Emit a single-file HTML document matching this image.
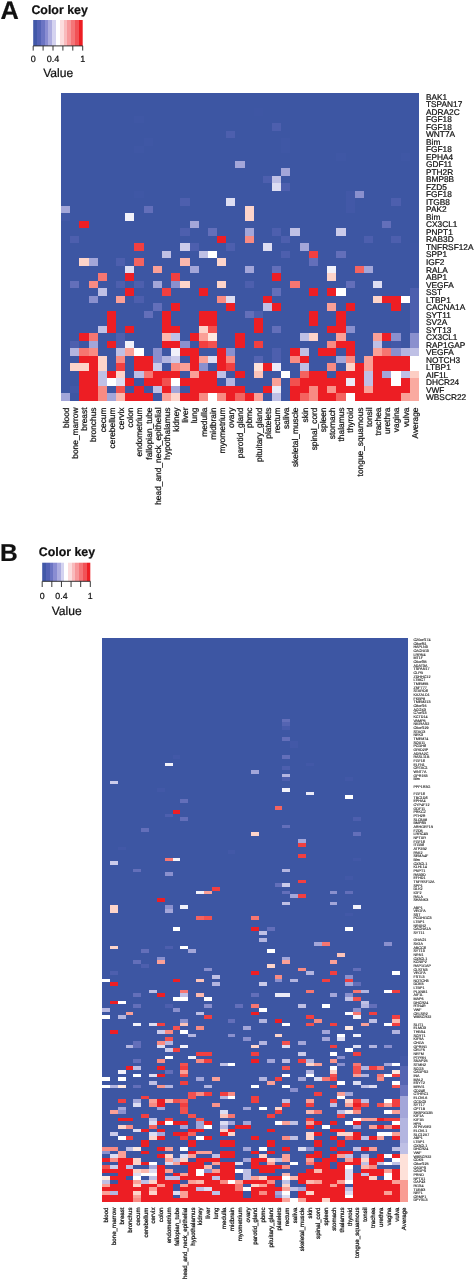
<!DOCTYPE html><html><head><meta charset="utf-8"><title>Heatmaps</title><style>html,body{margin:0;padding:0;background:#fff;}body{width:474px;height:1280px;overflow:hidden;}svg{display:block;}text{font-family:"Liberation Sans",Arial,Helvetica,sans-serif;fill:#111;stroke:#111;stroke-width:0.22px;text-rendering:geometricPrecision;}text.sm{stroke:#111;stroke-width:1px;fill:#111;}</style></head><body>
<svg width="474" height="1280" viewBox="0 0 474 1280">
<rect x="0" y="0" width="474" height="1280" fill="#fff"/>
<defs><linearGradient id="key" x1="0" y1="0" x2="1" y2="0"><stop offset="0%" stop-color="#4158a8"/><stop offset="7.69%" stop-color="#4158a8"/><stop offset="7.69%" stop-color="#5362b5"/><stop offset="15.38%" stop-color="#5362b5"/><stop offset="15.38%" stop-color="#6b74c3"/><stop offset="23.08%" stop-color="#6b74c3"/><stop offset="23.08%" stop-color="#8a8dd2"/><stop offset="30.77%" stop-color="#8a8dd2"/><stop offset="30.77%" stop-color="#adade0"/><stop offset="38.46%" stop-color="#adade0"/><stop offset="38.46%" stop-color="#d4d3f0"/><stop offset="46.15%" stop-color="#d4d3f0"/><stop offset="46.15%" stop-color="#ffffff"/><stop offset="53.85%" stop-color="#ffffff"/><stop offset="53.85%" stop-color="#fcdcdd"/><stop offset="61.54%" stop-color="#fcdcdd"/><stop offset="61.54%" stop-color="#f9babc"/><stop offset="69.23%" stop-color="#f9babc"/><stop offset="69.23%" stop-color="#f7979a"/><stop offset="76.92%" stop-color="#f7979a"/><stop offset="76.92%" stop-color="#f47578"/><stop offset="84.62%" stop-color="#f47578"/><stop offset="84.62%" stop-color="#f15257"/><stop offset="92.31%" stop-color="#f15257"/><stop offset="92.31%" stop-color="#ed1e24"/><stop offset="100%" stop-color="#ed1e24"/></linearGradient></defs>
<text x="0.5" y="18.7" font-size="25.3" font-weight="bold">A</text>
<text x="31.4" y="13.5" font-size="12.4" font-weight="bold">Color key</text>
<rect x="33.2" y="20" width="49.5" height="25.9" fill="url(#key)"/>
<line x1="33.2" y1="45.9" x2="82.7" y2="45.9" stroke="#222" stroke-width="0.9"/>
<line x1="33.2" y1="45.9" x2="33.2" y2="50.6" stroke="#222" stroke-width="0.9"/>
<line x1="43.1" y1="45.9" x2="43.1" y2="50.6" stroke="#222" stroke-width="0.9"/>
<line x1="53" y1="45.9" x2="53" y2="50.6" stroke="#222" stroke-width="0.9"/>
<line x1="62.9" y1="45.9" x2="62.9" y2="50.6" stroke="#222" stroke-width="0.9"/>
<line x1="72.8" y1="45.9" x2="72.8" y2="50.6" stroke="#222" stroke-width="0.9"/>
<line x1="82.7" y1="45.9" x2="82.7" y2="50.6" stroke="#222" stroke-width="0.9"/>
<text x="33.2" y="62.1" font-size="9" text-anchor="middle">0</text>
<text x="53" y="62.1" font-size="9" text-anchor="middle">0.4</text>
<text x="82.7" y="62.1" font-size="9" text-anchor="middle">1</text>
<text x="43.2" y="76.8" font-size="12.1">Value</text>
<g shape-rendering="crispEdges"><rect x="61" y="93" width="358" height="308" fill="#3d56a3"/>
<rect x="409.82" y="93" width="9.18" height="7.51" fill="#3d56a3"/>
<rect x="409.82" y="100.51" width="9.18" height="7.51" fill="#3d56a3"/>
<rect x="253.77" y="108.02" width="9.18" height="7.51" fill="#3e56a4"/>
<rect x="409.82" y="108.02" width="9.18" height="7.51" fill="#3d56a3"/>
<rect x="134.44" y="115.54" width="9.18" height="7.51" fill="#3f57a5"/>
<rect x="409.82" y="115.54" width="9.18" height="7.51" fill="#3d56a3"/>
<rect x="272.13" y="123.05" width="9.18" height="7.51" fill="#4d5fae"/>
<rect x="409.82" y="123.05" width="9.18" height="7.51" fill="#3d56a3"/>
<rect x="226.23" y="130.56" width="9.18" height="7.51" fill="#4d5fae"/>
<rect x="409.82" y="130.56" width="9.18" height="7.51" fill="#3d56a3"/>
<rect x="143.62" y="138.07" width="9.18" height="7.51" fill="#3f57a5"/>
<rect x="281.31" y="138.07" width="9.18" height="7.51" fill="#3f57a5"/>
<rect x="409.82" y="138.07" width="9.18" height="7.51" fill="#3d56a3"/>
<rect x="134.44" y="145.59" width="9.18" height="7.51" fill="#3f57a5"/>
<rect x="281.31" y="145.59" width="9.18" height="7.51" fill="#3f57a5"/>
<rect x="409.82" y="145.59" width="9.18" height="7.51" fill="#3d56a3"/>
<rect x="336.38" y="153.1" width="9.18" height="7.51" fill="#3f57a5"/>
<rect x="400.64" y="153.1" width="9.18" height="7.51" fill="#3f57a5"/>
<rect x="409.82" y="153.1" width="9.18" height="7.51" fill="#3d56a3"/>
<rect x="235.41" y="160.61" width="9.18" height="7.51" fill="#a3a6d9"/>
<rect x="409.82" y="160.61" width="9.18" height="7.51" fill="#3d56a3"/>
<rect x="281.31" y="168.12" width="9.18" height="7.51" fill="#a3a6d9"/>
<rect x="409.82" y="168.12" width="9.18" height="7.51" fill="#3d56a3"/>
<rect x="262.95" y="175.63" width="9.18" height="7.51" fill="#4d5fae"/>
<rect x="272.13" y="175.63" width="9.18" height="7.51" fill="#bfc0e5"/>
<rect x="409.82" y="175.63" width="9.18" height="7.51" fill="#3d56a3"/>
<rect x="272.13" y="183.15" width="9.18" height="7.51" fill="#ddddf2"/>
<rect x="281.31" y="183.15" width="9.18" height="7.51" fill="#4d5fae"/>
<rect x="409.82" y="183.15" width="9.18" height="7.51" fill="#3d56a3"/>
<rect x="134.44" y="190.66" width="9.18" height="7.51" fill="#3f57a5"/>
<rect x="345.56" y="190.66" width="9.18" height="7.51" fill="#4258a7"/>
<rect x="354.74" y="190.66" width="9.18" height="7.51" fill="#8a90ce"/>
<rect x="409.82" y="190.66" width="9.18" height="7.51" fill="#3d56a3"/>
<rect x="180.33" y="198.17" width="9.18" height="7.51" fill="#4d5fae"/>
<rect x="226.23" y="198.17" width="9.18" height="7.51" fill="#ddddf2"/>
<rect x="345.56" y="198.17" width="9.18" height="7.51" fill="#4258a7"/>
<rect x="391.46" y="198.17" width="9.18" height="7.51" fill="#4d5fae"/>
<rect x="409.82" y="198.17" width="9.18" height="7.51" fill="#3d56a3"/>
<rect x="61" y="205.68" width="9.18" height="7.51" fill="#a3a6d9"/>
<rect x="143.62" y="205.68" width="9.18" height="7.51" fill="#636fba"/>
<rect x="244.59" y="205.68" width="9.18" height="7.51" fill="#fdd4ca"/>
<rect x="345.56" y="205.68" width="9.18" height="7.51" fill="#4258a7"/>
<rect x="409.82" y="205.68" width="9.18" height="7.51" fill="#3d56a3"/>
<rect x="61" y="213.2" width="9.18" height="7.51" fill="#4258a7"/>
<rect x="125.26" y="213.2" width="9.18" height="7.51" fill="#f1f1fa"/>
<rect x="244.59" y="213.2" width="9.18" height="7.51" fill="#fdd4ca"/>
<rect x="409.82" y="213.2" width="9.18" height="7.51" fill="#3d56a3"/>
<rect x="79.36" y="220.71" width="9.18" height="7.51" fill="#ed1e24"/>
<rect x="189.51" y="220.71" width="9.18" height="7.51" fill="#a3a6d9"/>
<rect x="382.28" y="220.71" width="9.18" height="7.51" fill="#636fba"/>
<rect x="409.82" y="220.71" width="9.18" height="7.51" fill="#3d56a3"/>
<rect x="180.33" y="228.22" width="9.18" height="7.51" fill="#4d5fae"/>
<rect x="207.87" y="228.22" width="9.18" height="7.51" fill="#636fba"/>
<rect x="244.59" y="228.22" width="9.18" height="7.51" fill="#a3a6d9"/>
<rect x="272.13" y="228.22" width="9.18" height="7.51" fill="#4d5fae"/>
<rect x="290.49" y="228.22" width="9.18" height="7.51" fill="#bfc0e5"/>
<rect x="336.38" y="228.22" width="9.18" height="7.51" fill="#cbcbea"/>
<rect x="409.82" y="228.22" width="9.18" height="7.51" fill="#3d56a3"/>
<rect x="70.18" y="235.73" width="9.18" height="7.51" fill="#4d5fae"/>
<rect x="217.05" y="235.73" width="9.18" height="7.51" fill="#ed1e24"/>
<rect x="244.59" y="235.73" width="9.18" height="7.51" fill="#f88b83"/>
<rect x="281.31" y="235.73" width="9.18" height="7.51" fill="#4d5fae"/>
<rect x="363.92" y="235.73" width="9.18" height="7.51" fill="#4d5fae"/>
<rect x="391.46" y="235.73" width="9.18" height="7.51" fill="#4d5fae"/>
<rect x="409.82" y="235.73" width="9.18" height="7.51" fill="#3d56a3"/>
<rect x="134.44" y="243.24" width="9.18" height="7.51" fill="#f13f40"/>
<rect x="180.33" y="243.24" width="9.18" height="7.51" fill="#cbcbea"/>
<rect x="189.51" y="243.24" width="9.18" height="7.51" fill="#4d5fae"/>
<rect x="226.23" y="243.24" width="9.18" height="7.51" fill="#4d5fae"/>
<rect x="262.95" y="243.24" width="9.18" height="7.51" fill="#ddddf2"/>
<rect x="299.67" y="243.24" width="9.18" height="7.51" fill="#a3a6d9"/>
<rect x="409.82" y="243.24" width="9.18" height="7.51" fill="#3e56a4"/>
<rect x="161.97" y="250.76" width="9.18" height="7.51" fill="#bfc0e5"/>
<rect x="198.69" y="250.76" width="9.18" height="7.51" fill="#bfc0e5"/>
<rect x="207.87" y="250.76" width="9.18" height="7.51" fill="#ffffff"/>
<rect x="281.31" y="250.76" width="9.18" height="7.51" fill="#4d5fae"/>
<rect x="308.85" y="250.76" width="9.18" height="7.51" fill="#f13f40"/>
<rect x="336.38" y="250.76" width="9.18" height="7.51" fill="#636fba"/>
<rect x="409.82" y="250.76" width="9.18" height="7.51" fill="#3e56a4"/>
<rect x="79.36" y="258.27" width="9.18" height="7.51" fill="#fdd4ca"/>
<rect x="88.54" y="258.27" width="9.18" height="7.51" fill="#a3a6d9"/>
<rect x="116.08" y="258.27" width="9.18" height="7.51" fill="#4d5fae"/>
<rect x="134.44" y="258.27" width="9.18" height="7.51" fill="#f4635f"/>
<rect x="180.33" y="258.27" width="9.18" height="7.51" fill="#fbb8ae"/>
<rect x="217.05" y="258.27" width="9.18" height="7.51" fill="#fdd4ca"/>
<rect x="308.85" y="258.27" width="9.18" height="7.51" fill="#636fba"/>
<rect x="409.82" y="258.27" width="9.18" height="7.51" fill="#3e56a4"/>
<rect x="125.26" y="265.78" width="9.18" height="7.51" fill="#ddddf2"/>
<rect x="152.79" y="265.78" width="9.18" height="7.51" fill="#faa097"/>
<rect x="189.51" y="265.78" width="9.18" height="7.51" fill="#a3a6d9"/>
<rect x="244.59" y="265.78" width="9.18" height="7.51" fill="#a3a6d9"/>
<rect x="272.13" y="265.78" width="9.18" height="7.51" fill="#636fba"/>
<rect x="327.21" y="265.78" width="9.18" height="7.51" fill="#f1f1fa"/>
<rect x="354.74" y="265.78" width="9.18" height="7.51" fill="#f4635f"/>
<rect x="363.92" y="265.78" width="9.18" height="7.51" fill="#a3a6d9"/>
<rect x="409.82" y="265.78" width="9.18" height="7.51" fill="#3e56a4"/>
<rect x="97.72" y="273.29" width="9.18" height="7.51" fill="#f67671"/>
<rect x="125.26" y="273.29" width="9.18" height="7.51" fill="#ed1e24"/>
<rect x="171.15" y="273.29" width="9.18" height="7.51" fill="#f13f40"/>
<rect x="272.13" y="273.29" width="9.18" height="7.51" fill="#ed1e24"/>
<rect x="327.21" y="273.29" width="9.18" height="7.51" fill="#fdd4ca"/>
<rect x="409.82" y="273.29" width="9.18" height="7.51" fill="#3e56a4"/>
<rect x="70.18" y="280.8" width="9.18" height="7.51" fill="#636fba"/>
<rect x="88.54" y="280.8" width="9.18" height="7.51" fill="#f88b83"/>
<rect x="116.08" y="280.8" width="9.18" height="7.51" fill="#4d5fae"/>
<rect x="134.44" y="280.8" width="9.18" height="7.51" fill="#4d5fae"/>
<rect x="152.79" y="280.8" width="9.18" height="7.51" fill="#a3a6d9"/>
<rect x="171.15" y="280.8" width="9.18" height="7.51" fill="#8a90ce"/>
<rect x="180.33" y="280.8" width="9.18" height="7.51" fill="#fdd4ca"/>
<rect x="217.05" y="280.8" width="9.18" height="7.51" fill="#fdd4ca"/>
<rect x="244.59" y="280.8" width="9.18" height="7.51" fill="#4d5fae"/>
<rect x="290.49" y="280.8" width="9.18" height="7.51" fill="#f67671"/>
<rect x="345.56" y="280.8" width="9.18" height="7.51" fill="#636fba"/>
<rect x="373.1" y="280.8" width="9.18" height="7.51" fill="#ddddf2"/>
<rect x="409.82" y="280.8" width="9.18" height="7.51" fill="#3e56a4"/>
<rect x="97.72" y="288.32" width="9.18" height="7.51" fill="#bfc0e5"/>
<rect x="125.26" y="288.32" width="9.18" height="7.51" fill="#ed1e24"/>
<rect x="161.97" y="288.32" width="9.18" height="7.51" fill="#f13f40"/>
<rect x="198.69" y="288.32" width="9.18" height="7.51" fill="#ed1e24"/>
<rect x="272.13" y="288.32" width="9.18" height="7.51" fill="#636fba"/>
<rect x="308.85" y="288.32" width="9.18" height="7.51" fill="#ed1e24"/>
<rect x="327.21" y="288.32" width="9.18" height="7.51" fill="#ed1e24"/>
<rect x="336.38" y="288.32" width="9.18" height="7.51" fill="#ffffff"/>
<rect x="409.82" y="288.32" width="9.18" height="7.51" fill="#4d5fae"/>
<rect x="88.54" y="295.83" width="9.18" height="7.51" fill="#8a90ce"/>
<rect x="116.08" y="295.83" width="9.18" height="7.51" fill="#faa097"/>
<rect x="134.44" y="295.83" width="9.18" height="7.51" fill="#4d5fae"/>
<rect x="217.05" y="295.83" width="9.18" height="7.51" fill="#f88b83"/>
<rect x="226.23" y="295.83" width="9.18" height="7.51" fill="#ddddf2"/>
<rect x="262.95" y="295.83" width="9.18" height="7.51" fill="#ed1e24"/>
<rect x="373.1" y="295.83" width="9.18" height="7.51" fill="#fdd4ca"/>
<rect x="382.28" y="295.83" width="9.18" height="7.51" fill="#ed1e24"/>
<rect x="391.46" y="295.83" width="9.18" height="7.51" fill="#ed1e24"/>
<rect x="400.64" y="295.83" width="9.18" height="7.51" fill="#ffffff"/>
<rect x="409.82" y="295.83" width="9.18" height="7.51" fill="#4d5fae"/>
<rect x="152.79" y="303.34" width="9.18" height="7.51" fill="#636fba"/>
<rect x="171.15" y="303.34" width="9.18" height="7.51" fill="#ed1e24"/>
<rect x="226.23" y="303.34" width="9.18" height="7.51" fill="#ed1e24"/>
<rect x="262.95" y="303.34" width="9.18" height="7.51" fill="#bfc0e5"/>
<rect x="272.13" y="303.34" width="9.18" height="7.51" fill="#ed1e24"/>
<rect x="327.21" y="303.34" width="9.18" height="7.51" fill="#faa097"/>
<rect x="345.56" y="303.34" width="9.18" height="7.51" fill="#ed1e24"/>
<rect x="391.46" y="303.34" width="9.18" height="7.51" fill="#ed1e24"/>
<rect x="409.82" y="303.34" width="9.18" height="7.51" fill="#4d5fae"/>
<rect x="106.9" y="310.85" width="9.18" height="7.51" fill="#ed1e24"/>
<rect x="143.62" y="310.85" width="9.18" height="7.51" fill="#636fba"/>
<rect x="161.97" y="310.85" width="9.18" height="7.51" fill="#ed1e24"/>
<rect x="198.69" y="310.85" width="9.18" height="7.51" fill="#ed1e24"/>
<rect x="207.87" y="310.85" width="9.18" height="7.51" fill="#ed1e24"/>
<rect x="244.59" y="310.85" width="9.18" height="7.51" fill="#636fba"/>
<rect x="253.77" y="310.85" width="9.18" height="7.51" fill="#4d5fae"/>
<rect x="308.85" y="310.85" width="9.18" height="7.51" fill="#ed1e24"/>
<rect x="336.38" y="310.85" width="9.18" height="7.51" fill="#ed1e24"/>
<rect x="409.82" y="310.85" width="9.18" height="7.51" fill="#4d5fae"/>
<rect x="106.9" y="318.37" width="9.18" height="7.51" fill="#ed1e24"/>
<rect x="161.97" y="318.37" width="9.18" height="7.51" fill="#ed1e24"/>
<rect x="198.69" y="318.37" width="9.18" height="7.51" fill="#ed1e24"/>
<rect x="207.87" y="318.37" width="9.18" height="7.51" fill="#ed1e24"/>
<rect x="253.77" y="318.37" width="9.18" height="7.51" fill="#ed1e24"/>
<rect x="308.85" y="318.37" width="9.18" height="7.51" fill="#ed1e24"/>
<rect x="336.38" y="318.37" width="9.18" height="7.51" fill="#ed1e24"/>
<rect x="409.82" y="318.37" width="9.18" height="7.51" fill="#4d5fae"/>
<rect x="97.72" y="325.88" width="9.18" height="7.51" fill="#bfc0e5"/>
<rect x="106.9" y="325.88" width="9.18" height="7.51" fill="#ed1e24"/>
<rect x="125.26" y="325.88" width="9.18" height="7.51" fill="#ed1e24"/>
<rect x="161.97" y="325.88" width="9.18" height="7.51" fill="#ed1e24"/>
<rect x="171.15" y="325.88" width="9.18" height="7.51" fill="#ed1e24"/>
<rect x="198.69" y="325.88" width="9.18" height="7.51" fill="#fdd4ca"/>
<rect x="207.87" y="325.88" width="9.18" height="7.51" fill="#f2514f"/>
<rect x="253.77" y="325.88" width="9.18" height="7.51" fill="#ed1e24"/>
<rect x="272.13" y="325.88" width="9.18" height="7.51" fill="#636fba"/>
<rect x="327.21" y="325.88" width="9.18" height="7.51" fill="#ed1e24"/>
<rect x="336.38" y="325.88" width="9.18" height="7.51" fill="#ed1e24"/>
<rect x="345.56" y="325.88" width="9.18" height="7.51" fill="#8a90ce"/>
<rect x="409.82" y="325.88" width="9.18" height="7.51" fill="#4d5fae"/>
<rect x="79.36" y="333.39" width="9.18" height="7.51" fill="#ed1e24"/>
<rect x="88.54" y="333.39" width="9.18" height="7.51" fill="#f67671"/>
<rect x="116.08" y="333.39" width="9.18" height="7.51" fill="#4d5fae"/>
<rect x="161.97" y="333.39" width="9.18" height="7.51" fill="#fbb8ae"/>
<rect x="171.15" y="333.39" width="9.18" height="7.51" fill="#bfc0e5"/>
<rect x="189.51" y="333.39" width="9.18" height="7.51" fill="#ed1e24"/>
<rect x="198.69" y="333.39" width="9.18" height="7.51" fill="#faa097"/>
<rect x="207.87" y="333.39" width="9.18" height="7.51" fill="#fee9e1"/>
<rect x="235.41" y="333.39" width="9.18" height="7.51" fill="#ed1e24"/>
<rect x="299.67" y="333.39" width="9.18" height="7.51" fill="#bfc0e5"/>
<rect x="308.85" y="333.39" width="9.18" height="7.51" fill="#fdd4ca"/>
<rect x="336.38" y="333.39" width="9.18" height="7.51" fill="#faa097"/>
<rect x="373.1" y="333.39" width="9.18" height="7.51" fill="#faa097"/>
<rect x="382.28" y="333.39" width="9.18" height="7.51" fill="#ed1e24"/>
<rect x="391.46" y="333.39" width="9.18" height="7.51" fill="#8a90ce"/>
<rect x="409.82" y="333.39" width="9.18" height="7.51" fill="#8a90ce"/>
<rect x="70.18" y="340.9" width="9.18" height="7.51" fill="#4d5fae"/>
<rect x="88.54" y="340.9" width="9.18" height="7.51" fill="#a3a6d9"/>
<rect x="106.9" y="340.9" width="9.18" height="7.51" fill="#ed1e24"/>
<rect x="116.08" y="340.9" width="9.18" height="7.51" fill="#4d5fae"/>
<rect x="125.26" y="340.9" width="9.18" height="7.51" fill="#f1f1fa"/>
<rect x="161.97" y="340.9" width="9.18" height="7.51" fill="#ed1e24"/>
<rect x="171.15" y="340.9" width="9.18" height="7.51" fill="#ed1e24"/>
<rect x="180.33" y="340.9" width="9.18" height="7.51" fill="#8a90ce"/>
<rect x="198.69" y="340.9" width="9.18" height="7.51" fill="#f13f40"/>
<rect x="207.87" y="340.9" width="9.18" height="7.51" fill="#f2514f"/>
<rect x="235.41" y="340.9" width="9.18" height="7.51" fill="#ed1e24"/>
<rect x="253.77" y="340.9" width="9.18" height="7.51" fill="#f13f40"/>
<rect x="327.21" y="340.9" width="9.18" height="7.51" fill="#f88b83"/>
<rect x="336.38" y="340.9" width="9.18" height="7.51" fill="#ed1e24"/>
<rect x="345.56" y="340.9" width="9.18" height="7.51" fill="#ed1e24"/>
<rect x="373.1" y="340.9" width="9.18" height="7.51" fill="#bfc0e5"/>
<rect x="391.46" y="340.9" width="9.18" height="7.51" fill="#4258a7"/>
<rect x="409.82" y="340.9" width="9.18" height="7.51" fill="#8a90ce"/>
<rect x="70.18" y="348.41" width="9.18" height="7.51" fill="#b3b5e0"/>
<rect x="79.36" y="348.41" width="9.18" height="7.51" fill="#f67671"/>
<rect x="88.54" y="348.41" width="9.18" height="7.51" fill="#f88b83"/>
<rect x="116.08" y="348.41" width="9.18" height="7.51" fill="#bfc0e5"/>
<rect x="125.26" y="348.41" width="9.18" height="7.51" fill="#faa097"/>
<rect x="134.44" y="348.41" width="9.18" height="7.51" fill="#ffffff"/>
<rect x="152.79" y="348.41" width="9.18" height="7.51" fill="#8a90ce"/>
<rect x="171.15" y="348.41" width="9.18" height="7.51" fill="#f1f1fa"/>
<rect x="180.33" y="348.41" width="9.18" height="7.51" fill="#ed1e24"/>
<rect x="189.51" y="348.41" width="9.18" height="7.51" fill="#ed1e24"/>
<rect x="217.05" y="348.41" width="9.18" height="7.51" fill="#ed1e24"/>
<rect x="226.23" y="348.41" width="9.18" height="7.51" fill="#8a90ce"/>
<rect x="272.13" y="348.41" width="9.18" height="7.51" fill="#4d5fae"/>
<rect x="290.49" y="348.41" width="9.18" height="7.51" fill="#ed1e24"/>
<rect x="299.67" y="348.41" width="9.18" height="7.51" fill="#bfc0e5"/>
<rect x="318.03" y="348.41" width="9.18" height="7.51" fill="#ed1e24"/>
<rect x="327.21" y="348.41" width="9.18" height="7.51" fill="#ed1e24"/>
<rect x="345.56" y="348.41" width="9.18" height="7.51" fill="#ed1e24"/>
<rect x="373.1" y="348.41" width="9.18" height="7.51" fill="#faa097"/>
<rect x="382.28" y="348.41" width="9.18" height="7.51" fill="#f67671"/>
<rect x="391.46" y="348.41" width="9.18" height="7.51" fill="#8a90ce"/>
<rect x="400.64" y="348.41" width="9.18" height="7.51" fill="#b3b5e0"/>
<rect x="409.82" y="348.41" width="9.18" height="7.51" fill="#bfc0e5"/>
<rect x="79.36" y="355.93" width="9.18" height="7.51" fill="#ed1e24"/>
<rect x="88.54" y="355.93" width="9.18" height="7.51" fill="#ed1e24"/>
<rect x="97.72" y="355.93" width="9.18" height="7.51" fill="#fdd4ca"/>
<rect x="116.08" y="355.93" width="9.18" height="7.51" fill="#f88b83"/>
<rect x="134.44" y="355.93" width="9.18" height="7.51" fill="#ed1e24"/>
<rect x="143.62" y="355.93" width="9.18" height="7.51" fill="#ed1e24"/>
<rect x="152.79" y="355.93" width="9.18" height="7.51" fill="#8a90ce"/>
<rect x="161.97" y="355.93" width="9.18" height="7.51" fill="#b3b5e0"/>
<rect x="171.15" y="355.93" width="9.18" height="7.51" fill="#cbcbea"/>
<rect x="189.51" y="355.93" width="9.18" height="7.51" fill="#ed1e24"/>
<rect x="198.69" y="355.93" width="9.18" height="7.51" fill="#faa097"/>
<rect x="207.87" y="355.93" width="9.18" height="7.51" fill="#ddddf2"/>
<rect x="217.05" y="355.93" width="9.18" height="7.51" fill="#ed1e24"/>
<rect x="226.23" y="355.93" width="9.18" height="7.51" fill="#f88b83"/>
<rect x="253.77" y="355.93" width="9.18" height="7.51" fill="#5464b2"/>
<rect x="272.13" y="355.93" width="9.18" height="7.51" fill="#4d5fae"/>
<rect x="290.49" y="355.93" width="9.18" height="7.51" fill="#f88b83"/>
<rect x="299.67" y="355.93" width="9.18" height="7.51" fill="#ed1e24"/>
<rect x="336.38" y="355.93" width="9.18" height="7.51" fill="#a3a6d9"/>
<rect x="345.56" y="355.93" width="9.18" height="7.51" fill="#f88b83"/>
<rect x="363.92" y="355.93" width="9.18" height="7.51" fill="#faa097"/>
<rect x="373.1" y="355.93" width="9.18" height="7.51" fill="#ed1e24"/>
<rect x="382.28" y="355.93" width="9.18" height="7.51" fill="#ed1e24"/>
<rect x="391.46" y="355.93" width="9.18" height="7.51" fill="#ed1e24"/>
<rect x="400.64" y="355.93" width="9.18" height="7.51" fill="#ed1e24"/>
<rect x="409.82" y="355.93" width="9.18" height="7.51" fill="#ffffff"/>
<rect x="70.18" y="363.44" width="9.18" height="7.51" fill="#fdd4ca"/>
<rect x="79.36" y="363.44" width="9.18" height="7.51" fill="#fdd4ca"/>
<rect x="88.54" y="363.44" width="9.18" height="7.51" fill="#ed1e24"/>
<rect x="97.72" y="363.44" width="9.18" height="7.51" fill="#fdd4ca"/>
<rect x="116.08" y="363.44" width="9.18" height="7.51" fill="#f13f40"/>
<rect x="134.44" y="363.44" width="9.18" height="7.51" fill="#ed1e24"/>
<rect x="143.62" y="363.44" width="9.18" height="7.51" fill="#ed1e24"/>
<rect x="152.79" y="363.44" width="9.18" height="7.51" fill="#cbcbea"/>
<rect x="171.15" y="363.44" width="9.18" height="7.51" fill="#f88b83"/>
<rect x="180.33" y="363.44" width="9.18" height="7.51" fill="#faa097"/>
<rect x="189.51" y="363.44" width="9.18" height="7.51" fill="#ed1e24"/>
<rect x="198.69" y="363.44" width="9.18" height="7.51" fill="#8a90ce"/>
<rect x="217.05" y="363.44" width="9.18" height="7.51" fill="#ed1e24"/>
<rect x="226.23" y="363.44" width="9.18" height="7.51" fill="#f13f40"/>
<rect x="253.77" y="363.44" width="9.18" height="7.51" fill="#fee1d9"/>
<rect x="262.95" y="363.44" width="9.18" height="7.51" fill="#ed1e24"/>
<rect x="272.13" y="363.44" width="9.18" height="7.51" fill="#ebeaf7"/>
<rect x="299.67" y="363.44" width="9.18" height="7.51" fill="#bfc0e5"/>
<rect x="327.21" y="363.44" width="9.18" height="7.51" fill="#f88b83"/>
<rect x="345.56" y="363.44" width="9.18" height="7.51" fill="#fdd4ca"/>
<rect x="354.74" y="363.44" width="9.18" height="7.51" fill="#ed1e24"/>
<rect x="363.92" y="363.44" width="9.18" height="7.51" fill="#faa097"/>
<rect x="373.1" y="363.44" width="9.18" height="7.51" fill="#ed1e24"/>
<rect x="382.28" y="363.44" width="9.18" height="7.51" fill="#ed1e24"/>
<rect x="391.46" y="363.44" width="9.18" height="7.51" fill="#ed1e24"/>
<rect x="400.64" y="363.44" width="9.18" height="7.51" fill="#ed1e24"/>
<rect x="409.82" y="363.44" width="9.18" height="7.51" fill="#ffffff"/>
<rect x="79.36" y="370.95" width="9.18" height="7.51" fill="#ed1e24"/>
<rect x="88.54" y="370.95" width="9.18" height="7.51" fill="#ed1e24"/>
<rect x="97.72" y="370.95" width="9.18" height="7.51" fill="#bfc0e5"/>
<rect x="106.9" y="370.95" width="9.18" height="7.51" fill="#ed1e24"/>
<rect x="116.08" y="370.95" width="9.18" height="7.51" fill="#fdd4ca"/>
<rect x="134.44" y="370.95" width="9.18" height="7.51" fill="#bfc0e5"/>
<rect x="143.62" y="370.95" width="9.18" height="7.51" fill="#f67671"/>
<rect x="152.79" y="370.95" width="9.18" height="7.51" fill="#ed1e24"/>
<rect x="161.97" y="370.95" width="9.18" height="7.51" fill="#ed1e24"/>
<rect x="171.15" y="370.95" width="9.18" height="7.51" fill="#ed1e24"/>
<rect x="189.51" y="370.95" width="9.18" height="7.51" fill="#faa097"/>
<rect x="198.69" y="370.95" width="9.18" height="7.51" fill="#ed1e24"/>
<rect x="207.87" y="370.95" width="9.18" height="7.51" fill="#ed1e24"/>
<rect x="217.05" y="370.95" width="9.18" height="7.51" fill="#bfc0e5"/>
<rect x="235.41" y="370.95" width="9.18" height="7.51" fill="#ed1e24"/>
<rect x="253.77" y="370.95" width="9.18" height="7.51" fill="#fcc3b9"/>
<rect x="281.31" y="370.95" width="9.18" height="7.51" fill="#ffffff"/>
<rect x="299.67" y="370.95" width="9.18" height="7.51" fill="#f4635f"/>
<rect x="308.85" y="370.95" width="9.18" height="7.51" fill="#ed1e24"/>
<rect x="318.03" y="370.95" width="9.18" height="7.51" fill="#ed1e24"/>
<rect x="336.38" y="370.95" width="9.18" height="7.51" fill="#ed1e24"/>
<rect x="345.56" y="370.95" width="9.18" height="7.51" fill="#ed1e24"/>
<rect x="354.74" y="370.95" width="9.18" height="7.51" fill="#ed1e24"/>
<rect x="363.92" y="370.95" width="9.18" height="7.51" fill="#bfc0e5"/>
<rect x="373.1" y="370.95" width="9.18" height="7.51" fill="#ed1e24"/>
<rect x="382.28" y="370.95" width="9.18" height="7.51" fill="#a3a6d9"/>
<rect x="391.46" y="370.95" width="9.18" height="7.51" fill="#ffffff"/>
<rect x="400.64" y="370.95" width="9.18" height="7.51" fill="#bfc0e5"/>
<rect x="409.82" y="370.95" width="9.18" height="7.51" fill="#fdcec4"/>
<rect x="79.36" y="378.46" width="9.18" height="7.51" fill="#ed1e24"/>
<rect x="88.54" y="378.46" width="9.18" height="7.51" fill="#ed1e24"/>
<rect x="97.72" y="378.46" width="9.18" height="7.51" fill="#bfc0e5"/>
<rect x="106.9" y="378.46" width="9.18" height="7.51" fill="#ffffff"/>
<rect x="116.08" y="378.46" width="9.18" height="7.51" fill="#ddddf2"/>
<rect x="125.26" y="378.46" width="9.18" height="7.51" fill="#ed1e24"/>
<rect x="143.62" y="378.46" width="9.18" height="7.51" fill="#ed1e24"/>
<rect x="152.79" y="378.46" width="9.18" height="7.51" fill="#ed1e24"/>
<rect x="161.97" y="378.46" width="9.18" height="7.51" fill="#f2514f"/>
<rect x="171.15" y="378.46" width="9.18" height="7.51" fill="#ffffff"/>
<rect x="180.33" y="378.46" width="9.18" height="7.51" fill="#ed1e24"/>
<rect x="189.51" y="378.46" width="9.18" height="7.51" fill="#ed1e24"/>
<rect x="198.69" y="378.46" width="9.18" height="7.51" fill="#ed1e24"/>
<rect x="207.87" y="378.46" width="9.18" height="7.51" fill="#ed1e24"/>
<rect x="226.23" y="378.46" width="9.18" height="7.51" fill="#b3b5e0"/>
<rect x="272.13" y="378.46" width="9.18" height="7.51" fill="#faa097"/>
<rect x="290.49" y="378.46" width="9.18" height="7.51" fill="#f2514f"/>
<rect x="299.67" y="378.46" width="9.18" height="7.51" fill="#ed1e24"/>
<rect x="308.85" y="378.46" width="9.18" height="7.51" fill="#ed1e24"/>
<rect x="318.03" y="378.46" width="9.18" height="7.51" fill="#ed1e24"/>
<rect x="327.21" y="378.46" width="9.18" height="7.51" fill="#ed1e24"/>
<rect x="336.38" y="378.46" width="9.18" height="7.51" fill="#ed1e24"/>
<rect x="345.56" y="378.46" width="9.18" height="7.51" fill="#ebeaf7"/>
<rect x="354.74" y="378.46" width="9.18" height="7.51" fill="#ed1e24"/>
<rect x="363.92" y="378.46" width="9.18" height="7.51" fill="#bfc0e5"/>
<rect x="373.1" y="378.46" width="9.18" height="7.51" fill="#ed1e24"/>
<rect x="382.28" y="378.46" width="9.18" height="7.51" fill="#ed1e24"/>
<rect x="391.46" y="378.46" width="9.18" height="7.51" fill="#ffffff"/>
<rect x="400.64" y="378.46" width="9.18" height="7.51" fill="#ed1e24"/>
<rect x="409.82" y="378.46" width="9.18" height="7.51" fill="#faaaa0"/>
<rect x="70.18" y="385.98" width="9.18" height="7.51" fill="#4258a7"/>
<rect x="79.36" y="385.98" width="9.18" height="7.51" fill="#ed1e24"/>
<rect x="88.54" y="385.98" width="9.18" height="7.51" fill="#ed1e24"/>
<rect x="97.72" y="385.98" width="9.18" height="7.51" fill="#f88b83"/>
<rect x="116.08" y="385.98" width="9.18" height="7.51" fill="#f2514f"/>
<rect x="134.44" y="385.98" width="9.18" height="7.51" fill="#ed1e24"/>
<rect x="152.79" y="385.98" width="9.18" height="7.51" fill="#bfc0e5"/>
<rect x="161.97" y="385.98" width="9.18" height="7.51" fill="#ed1e24"/>
<rect x="171.15" y="385.98" width="9.18" height="7.51" fill="#a3a6d9"/>
<rect x="189.51" y="385.98" width="9.18" height="7.51" fill="#ed1e24"/>
<rect x="198.69" y="385.98" width="9.18" height="7.51" fill="#ed1e24"/>
<rect x="207.87" y="385.98" width="9.18" height="7.51" fill="#ed1e24"/>
<rect x="217.05" y="385.98" width="9.18" height="7.51" fill="#ed1e24"/>
<rect x="226.23" y="385.98" width="9.18" height="7.51" fill="#ed1e24"/>
<rect x="235.41" y="385.98" width="9.18" height="7.51" fill="#ed1e24"/>
<rect x="262.95" y="385.98" width="9.18" height="7.51" fill="#ed1e24"/>
<rect x="272.13" y="385.98" width="9.18" height="7.51" fill="#ebeaf7"/>
<rect x="290.49" y="385.98" width="9.18" height="7.51" fill="#ed1e24"/>
<rect x="299.67" y="385.98" width="9.18" height="7.51" fill="#ed1e24"/>
<rect x="308.85" y="385.98" width="9.18" height="7.51" fill="#f88b83"/>
<rect x="318.03" y="385.98" width="9.18" height="7.51" fill="#ed1e24"/>
<rect x="327.21" y="385.98" width="9.18" height="7.51" fill="#f9938b"/>
<rect x="336.38" y="385.98" width="9.18" height="7.51" fill="#ed1e24"/>
<rect x="345.56" y="385.98" width="9.18" height="7.51" fill="#ed1e24"/>
<rect x="354.74" y="385.98" width="9.18" height="7.51" fill="#ed1e24"/>
<rect x="363.92" y="385.98" width="9.18" height="7.51" fill="#faa097"/>
<rect x="373.1" y="385.98" width="9.18" height="7.51" fill="#ed1e24"/>
<rect x="382.28" y="385.98" width="9.18" height="7.51" fill="#ed1e24"/>
<rect x="391.46" y="385.98" width="9.18" height="7.51" fill="#ed1e24"/>
<rect x="400.64" y="385.98" width="9.18" height="7.51" fill="#ed1e24"/>
<rect x="409.82" y="385.98" width="9.18" height="7.51" fill="#faaaa0"/>
<rect x="61" y="393.49" width="9.18" height="7.51" fill="#a3a6d9"/>
<rect x="79.36" y="393.49" width="9.18" height="7.51" fill="#ed1e24"/>
<rect x="88.54" y="393.49" width="9.18" height="7.51" fill="#ed1e24"/>
<rect x="97.72" y="393.49" width="9.18" height="7.51" fill="#f88b83"/>
<rect x="106.9" y="393.49" width="9.18" height="7.51" fill="#a3a6d9"/>
<rect x="116.08" y="393.49" width="9.18" height="7.51" fill="#fbb8ae"/>
<rect x="125.26" y="393.49" width="9.18" height="7.51" fill="#ed1e24"/>
<rect x="134.44" y="393.49" width="9.18" height="7.51" fill="#ed1e24"/>
<rect x="143.62" y="393.49" width="9.18" height="7.51" fill="#ed1e24"/>
<rect x="161.97" y="393.49" width="9.18" height="7.51" fill="#faa097"/>
<rect x="171.15" y="393.49" width="9.18" height="7.51" fill="#fdd4ca"/>
<rect x="180.33" y="393.49" width="9.18" height="7.51" fill="#ed1e24"/>
<rect x="189.51" y="393.49" width="9.18" height="7.51" fill="#ed1e24"/>
<rect x="198.69" y="393.49" width="9.18" height="7.51" fill="#f88b83"/>
<rect x="207.87" y="393.49" width="9.18" height="7.51" fill="#ffffff"/>
<rect x="217.05" y="393.49" width="9.18" height="7.51" fill="#f88b83"/>
<rect x="226.23" y="393.49" width="9.18" height="7.51" fill="#ed1e24"/>
<rect x="235.41" y="393.49" width="9.18" height="7.51" fill="#f4635f"/>
<rect x="244.59" y="393.49" width="9.18" height="7.51" fill="#ed1e24"/>
<rect x="253.77" y="393.49" width="9.18" height="7.51" fill="#faa097"/>
<rect x="272.13" y="393.49" width="9.18" height="7.51" fill="#bfc0e5"/>
<rect x="290.49" y="393.49" width="9.18" height="7.51" fill="#ed1e24"/>
<rect x="299.67" y="393.49" width="9.18" height="7.51" fill="#f4635f"/>
<rect x="308.85" y="393.49" width="9.18" height="7.51" fill="#f88b83"/>
<rect x="318.03" y="393.49" width="9.18" height="7.51" fill="#ed1e24"/>
<rect x="327.21" y="393.49" width="9.18" height="7.51" fill="#ed1e24"/>
<rect x="336.38" y="393.49" width="9.18" height="7.51" fill="#f4635f"/>
<rect x="345.56" y="393.49" width="9.18" height="7.51" fill="#ffffff"/>
<rect x="354.74" y="393.49" width="9.18" height="7.51" fill="#ed1e24"/>
<rect x="363.92" y="393.49" width="9.18" height="7.51" fill="#ed1e24"/>
<rect x="373.1" y="393.49" width="9.18" height="7.51" fill="#ed1e24"/>
<rect x="382.28" y="393.49" width="9.18" height="7.51" fill="#ed1e24"/>
<rect x="391.46" y="393.49" width="9.18" height="7.51" fill="#ed1e24"/>
<rect x="400.64" y="393.49" width="9.18" height="7.51" fill="#faa097"/>
<rect x="409.82" y="393.49" width="9.18" height="7.51" fill="#faaaa0"/>
</g>
<text x="426" y="99.73" font-size="8.3">BAK1</text>
<text x="426" y="107.24" font-size="8.3">TSPAN17</text>
<text x="426" y="114.75" font-size="8.3">ADRA2C</text>
<text x="426" y="122.26" font-size="8.3">FGF18</text>
<text x="426" y="129.78" font-size="8.3">FGF18</text>
<text x="426" y="137.29" font-size="8.3">WNT7A</text>
<text x="426" y="144.8" font-size="8.3">Bim</text>
<text x="426" y="152.31" font-size="8.3">FGF18</text>
<text x="426" y="159.83" font-size="8.3">EPHA4</text>
<text x="426" y="167.34" font-size="8.3">GDF11</text>
<text x="426" y="174.85" font-size="8.3">PTH2R</text>
<text x="426" y="182.36" font-size="8.3">BMP8B</text>
<text x="426" y="189.87" font-size="8.3">FZD5</text>
<text x="426" y="197.39" font-size="8.3">FGF18</text>
<text x="426" y="204.9" font-size="8.3">ITGB8</text>
<text x="426" y="212.41" font-size="8.3">PAK2</text>
<text x="426" y="219.92" font-size="8.3">Bim</text>
<text x="426" y="227.43" font-size="8.3">CX3CL1</text>
<text x="426" y="234.95" font-size="8.3">PNPT1</text>
<text x="426" y="242.46" font-size="8.3">RAB3D</text>
<text x="426" y="249.97" font-size="8.3">TNFRSF12A</text>
<text x="426" y="257.48" font-size="8.3">SPP1</text>
<text x="426" y="265" font-size="8.3">IGF2</text>
<text x="426" y="272.51" font-size="8.3">RALA</text>
<text x="426" y="280.02" font-size="8.3">ABP1</text>
<text x="426" y="287.53" font-size="8.3">VEGFA</text>
<text x="426" y="295.04" font-size="8.3">SST</text>
<text x="426" y="302.56" font-size="8.3">LTBP1</text>
<text x="426" y="310.07" font-size="8.3">CACNA1A</text>
<text x="426" y="317.58" font-size="8.3">SYT11</text>
<text x="426" y="325.09" font-size="8.3">SV2A</text>
<text x="426" y="332.61" font-size="8.3">SYT13</text>
<text x="426" y="340.12" font-size="8.3">CX3CL1</text>
<text x="426" y="347.63" font-size="8.3">RAP1GAP</text>
<text x="426" y="355.14" font-size="8.3">VEGFA</text>
<text x="426" y="362.65" font-size="8.3">NOTCH3</text>
<text x="426" y="370.17" font-size="8.3">LTBP1</text>
<text x="426" y="377.68" font-size="8.3">AIF1L</text>
<text x="426" y="385.19" font-size="8.3">DHCR24</text>
<text x="426" y="392.7" font-size="8.3">VWF</text>
<text x="426" y="400.22" font-size="8.3">WBSCR22</text>
<text transform="translate(68.89 407.5) rotate(-90)" font-size="8.4" text-anchor="end">blood</text>
<text transform="translate(78.07 407.5) rotate(-90)" font-size="8.4" text-anchor="end">bone_marrow</text>
<text transform="translate(87.25 407.5) rotate(-90)" font-size="8.4" text-anchor="end">breast</text>
<text transform="translate(96.43 407.5) rotate(-90)" font-size="8.4" text-anchor="end">bronchus</text>
<text transform="translate(105.61 407.5) rotate(-90)" font-size="8.4" text-anchor="end">cecum</text>
<text transform="translate(114.79 407.5) rotate(-90)" font-size="8.4" text-anchor="end">cerebellum</text>
<text transform="translate(123.97 407.5) rotate(-90)" font-size="8.4" text-anchor="end">cervix</text>
<text transform="translate(133.15 407.5) rotate(-90)" font-size="8.4" text-anchor="end">colon</text>
<text transform="translate(142.33 407.5) rotate(-90)" font-size="8.4" text-anchor="end">endometrium</text>
<text transform="translate(151.51 407.5) rotate(-90)" font-size="8.4" text-anchor="end">fallopian_tube</text>
<text transform="translate(160.68 407.5) rotate(-90)" font-size="8.4" text-anchor="end">head_and_neck_epithelial</text>
<text transform="translate(169.86 407.5) rotate(-90)" font-size="8.4" text-anchor="end">hypothalamus</text>
<text transform="translate(179.04 407.5) rotate(-90)" font-size="8.4" text-anchor="end">kidney</text>
<text transform="translate(188.22 407.5) rotate(-90)" font-size="8.4" text-anchor="end">liver</text>
<text transform="translate(197.4 407.5) rotate(-90)" font-size="8.4" text-anchor="end">lung</text>
<text transform="translate(206.58 407.5) rotate(-90)" font-size="8.4" text-anchor="end">medulla</text>
<text transform="translate(215.76 407.5) rotate(-90)" font-size="8.4" text-anchor="end">midbrain</text>
<text transform="translate(224.94 407.5) rotate(-90)" font-size="8.4" text-anchor="end">myometrium</text>
<text transform="translate(234.12 407.5) rotate(-90)" font-size="8.4" text-anchor="end">ovary</text>
<text transform="translate(243.3 407.5) rotate(-90)" font-size="8.4" text-anchor="end">parotid_gland</text>
<text transform="translate(252.48 407.5) rotate(-90)" font-size="8.4" text-anchor="end">pbmc</text>
<text transform="translate(261.66 407.5) rotate(-90)" font-size="8.4" text-anchor="end">pituitary_gland</text>
<text transform="translate(270.84 407.5) rotate(-90)" font-size="8.4" text-anchor="end">platelets</text>
<text transform="translate(280.02 407.5) rotate(-90)" font-size="8.4" text-anchor="end">rectum</text>
<text transform="translate(289.2 407.5) rotate(-90)" font-size="8.4" text-anchor="end">saliva</text>
<text transform="translate(298.38 407.5) rotate(-90)" font-size="8.4" text-anchor="end">skeletal_muscle</text>
<text transform="translate(307.56 407.5) rotate(-90)" font-size="8.4" text-anchor="end">skin</text>
<text transform="translate(316.74 407.5) rotate(-90)" font-size="8.4" text-anchor="end">spinal_cord</text>
<text transform="translate(325.92 407.5) rotate(-90)" font-size="8.4" text-anchor="end">spleen</text>
<text transform="translate(335.09 407.5) rotate(-90)" font-size="8.4" text-anchor="end">stomach</text>
<text transform="translate(344.27 407.5) rotate(-90)" font-size="8.4" text-anchor="end">thalamus</text>
<text transform="translate(353.45 407.5) rotate(-90)" font-size="8.4" text-anchor="end">thyroid</text>
<text transform="translate(362.63 407.5) rotate(-90)" font-size="8.4" text-anchor="end">tongue_squamous</text>
<text transform="translate(371.81 407.5) rotate(-90)" font-size="8.4" text-anchor="end">tonsil</text>
<text transform="translate(380.99 407.5) rotate(-90)" font-size="8.4" text-anchor="end">trachea</text>
<text transform="translate(390.17 407.5) rotate(-90)" font-size="8.4" text-anchor="end">urethra</text>
<text transform="translate(399.35 407.5) rotate(-90)" font-size="8.4" text-anchor="end">vagina</text>
<text transform="translate(408.53 407.5) rotate(-90)" font-size="8.4" text-anchor="end">vulva</text>
<text transform="translate(417.71 407.5) rotate(-90)" font-size="8.4" text-anchor="end">Average</text>
<text x="0" y="561.2" font-size="24.5" font-weight="bold">B</text>
<text x="38.7" y="555.5" font-size="12.4" font-weight="bold">Color key</text>
<rect x="42.2" y="562.7" width="48.1" height="18.6" fill="url(#key)"/>
<line x1="42.2" y1="581.3" x2="90.3" y2="581.3" stroke="#222" stroke-width="0.9"/>
<line x1="42.2" y1="581.3" x2="42.2" y2="587" stroke="#222" stroke-width="0.9"/>
<line x1="51.82" y1="581.3" x2="51.82" y2="587" stroke="#222" stroke-width="0.9"/>
<line x1="61.44" y1="581.3" x2="61.44" y2="587" stroke="#222" stroke-width="0.9"/>
<line x1="71.06" y1="581.3" x2="71.06" y2="587" stroke="#222" stroke-width="0.9"/>
<line x1="80.68" y1="581.3" x2="80.68" y2="587" stroke="#222" stroke-width="0.9"/>
<line x1="90.3" y1="581.3" x2="90.3" y2="587" stroke="#222" stroke-width="0.9"/>
<text x="42.2" y="599.2" font-size="8.8" text-anchor="middle">0</text>
<text x="61.44" y="599.2" font-size="8.8" text-anchor="middle">0.4</text>
<text x="90.3" y="599.2" font-size="8.8" text-anchor="middle">1</text>
<text x="51.7" y="615" font-size="12.1">Value</text>
<g shape-rendering="crispEdges"><rect x="102" y="638" width="306" height="564" fill="#3d56a3"/>
<rect x="400.15" y="638" width="7.85" height="3.66" fill="#3d56a3"/>
<rect x="400.15" y="641.66" width="7.85" height="3.66" fill="#3d56a3"/>
<rect x="400.15" y="645.32" width="7.85" height="3.66" fill="#3d56a3"/>
<rect x="400.15" y="648.99" width="7.85" height="3.66" fill="#3d56a3"/>
<rect x="400.15" y="652.65" width="7.85" height="3.66" fill="#3d56a3"/>
<rect x="400.15" y="656.31" width="7.85" height="3.66" fill="#3d56a3"/>
<rect x="400.15" y="659.97" width="7.85" height="3.66" fill="#3d56a3"/>
<rect x="400.15" y="663.64" width="7.85" height="3.66" fill="#3d56a3"/>
<rect x="400.15" y="667.3" width="7.85" height="3.66" fill="#3d56a3"/>
<rect x="400.15" y="670.96" width="7.85" height="3.66" fill="#3d56a3"/>
<rect x="400.15" y="674.62" width="7.85" height="3.66" fill="#3d56a3"/>
<rect x="400.15" y="678.29" width="7.85" height="3.66" fill="#3d56a3"/>
<rect x="400.15" y="681.95" width="7.85" height="3.66" fill="#3d56a3"/>
<rect x="400.15" y="685.61" width="7.85" height="3.66" fill="#3d56a3"/>
<rect x="400.15" y="689.27" width="7.85" height="3.66" fill="#3d56a3"/>
<rect x="400.15" y="692.94" width="7.85" height="3.66" fill="#3d56a3"/>
<rect x="400.15" y="696.6" width="7.85" height="3.66" fill="#3d56a3"/>
<rect x="400.15" y="700.26" width="7.85" height="3.66" fill="#3d56a3"/>
<rect x="400.15" y="703.92" width="7.85" height="3.66" fill="#3d56a3"/>
<rect x="400.15" y="707.58" width="7.85" height="3.66" fill="#3d56a3"/>
<rect x="400.15" y="711.25" width="7.85" height="3.66" fill="#3d56a3"/>
<rect x="400.15" y="714.91" width="7.85" height="3.66" fill="#3d56a3"/>
<rect x="282.46" y="718.57" width="7.85" height="3.66" fill="#636fba"/>
<rect x="400.15" y="718.57" width="7.85" height="3.66" fill="#3d56a3"/>
<rect x="282.46" y="722.23" width="7.85" height="3.66" fill="#5464b2"/>
<rect x="400.15" y="722.23" width="7.85" height="3.66" fill="#3d56a3"/>
<rect x="282.46" y="725.9" width="7.85" height="3.66" fill="#475bab"/>
<rect x="400.15" y="725.9" width="7.85" height="3.66" fill="#3d56a3"/>
<rect x="400.15" y="729.56" width="7.85" height="3.66" fill="#3d56a3"/>
<rect x="400.15" y="733.22" width="7.85" height="3.66" fill="#3d56a3"/>
<rect x="282.46" y="736.88" width="7.85" height="3.66" fill="#636fba"/>
<rect x="400.15" y="736.88" width="7.85" height="3.66" fill="#3d56a3"/>
<rect x="290.31" y="740.55" width="7.85" height="3.66" fill="#4258a7"/>
<rect x="400.15" y="740.55" width="7.85" height="3.66" fill="#3d56a3"/>
<rect x="290.31" y="744.21" width="7.85" height="3.66" fill="#4258a7"/>
<rect x="400.15" y="744.21" width="7.85" height="3.66" fill="#3d56a3"/>
<rect x="400.15" y="747.87" width="7.85" height="3.66" fill="#3d56a3"/>
<rect x="400.15" y="751.53" width="7.85" height="3.66" fill="#3d56a3"/>
<rect x="172.62" y="755.19" width="7.85" height="3.66" fill="#4258a7"/>
<rect x="282.46" y="755.19" width="7.85" height="3.66" fill="#636fba"/>
<rect x="400.15" y="755.19" width="7.85" height="3.66" fill="#3d56a3"/>
<rect x="400.15" y="758.86" width="7.85" height="3.66" fill="#3d56a3"/>
<rect x="164.77" y="762.52" width="7.85" height="3.66" fill="#f1f1fa"/>
<rect x="306" y="762.52" width="7.85" height="3.66" fill="#4258a7"/>
<rect x="400.15" y="762.52" width="7.85" height="3.66" fill="#3d56a3"/>
<rect x="282.46" y="766.18" width="7.85" height="3.66" fill="#4d5fae"/>
<rect x="400.15" y="766.18" width="7.85" height="3.66" fill="#3d56a3"/>
<rect x="251.08" y="769.84" width="7.85" height="3.66" fill="#a3a6d9"/>
<rect x="400.15" y="769.84" width="7.85" height="3.66" fill="#3d56a3"/>
<rect x="282.46" y="773.51" width="7.85" height="3.66" fill="#b3b5e0"/>
<rect x="400.15" y="773.51" width="7.85" height="3.66" fill="#3d56a3"/>
<rect x="282.46" y="777.17" width="7.85" height="3.66" fill="#4d5fae"/>
<rect x="345.23" y="777.17" width="7.85" height="3.66" fill="#4258a7"/>
<rect x="400.15" y="777.17" width="7.85" height="3.66" fill="#3d56a3"/>
<rect x="109.85" y="780.83" width="7.85" height="3.66" fill="#cbcbea"/>
<rect x="400.15" y="780.83" width="7.85" height="3.66" fill="#3d56a3"/>
<rect x="400.15" y="784.49" width="7.85" height="3.66" fill="#3d56a3"/>
<rect x="156.92" y="788.16" width="7.85" height="3.66" fill="#4258a7"/>
<rect x="282.46" y="788.16" width="7.85" height="3.66" fill="#f1f1fa"/>
<rect x="400.15" y="788.16" width="7.85" height="3.66" fill="#3d56a3"/>
<rect x="306" y="791.82" width="7.85" height="3.66" fill="#ebeaf7"/>
<rect x="400.15" y="791.82" width="7.85" height="3.66" fill="#3d56a3"/>
<rect x="345.23" y="795.48" width="7.85" height="3.66" fill="#ffffff"/>
<rect x="400.15" y="795.48" width="7.85" height="3.66" fill="#3d56a3"/>
<rect x="180.46" y="799.14" width="7.85" height="3.66" fill="#636fba"/>
<rect x="400.15" y="799.14" width="7.85" height="3.66" fill="#3d56a3"/>
<rect x="400.15" y="802.81" width="7.85" height="3.66" fill="#3d56a3"/>
<rect x="274.62" y="806.47" width="7.85" height="3.66" fill="#f4635f"/>
<rect x="400.15" y="806.47" width="7.85" height="3.66" fill="#3d56a3"/>
<rect x="172.62" y="810.13" width="7.85" height="3.66" fill="#ed1e24"/>
<rect x="400.15" y="810.13" width="7.85" height="3.66" fill="#3d56a3"/>
<rect x="164.77" y="813.79" width="7.85" height="3.66" fill="#4d5fae"/>
<rect x="400.15" y="813.79" width="7.85" height="3.66" fill="#3d56a3"/>
<rect x="180.46" y="817.45" width="7.85" height="3.66" fill="#636fba"/>
<rect x="353.08" y="817.45" width="7.85" height="3.66" fill="#4d5fae"/>
<rect x="400.15" y="817.45" width="7.85" height="3.66" fill="#3d56a3"/>
<rect x="400.15" y="821.12" width="7.85" height="3.66" fill="#3d56a3"/>
<rect x="282.46" y="824.78" width="7.85" height="3.66" fill="#636fba"/>
<rect x="400.15" y="824.78" width="7.85" height="3.66" fill="#3d56a3"/>
<rect x="141.23" y="828.44" width="7.85" height="3.66" fill="#636fba"/>
<rect x="400.15" y="828.44" width="7.85" height="3.66" fill="#3d56a3"/>
<rect x="251.08" y="832.1" width="7.85" height="3.66" fill="#fdd4ca"/>
<rect x="353.08" y="832.1" width="7.85" height="3.66" fill="#636fba"/>
<rect x="400.15" y="832.1" width="7.85" height="3.66" fill="#3d56a3"/>
<rect x="400.15" y="835.77" width="7.85" height="3.66" fill="#3d56a3"/>
<rect x="298.15" y="839.43" width="7.85" height="3.66" fill="#a3a6d9"/>
<rect x="400.15" y="839.43" width="7.85" height="3.66" fill="#3d56a3"/>
<rect x="298.15" y="843.09" width="7.85" height="3.66" fill="#f13f40"/>
<rect x="400.15" y="843.09" width="7.85" height="3.66" fill="#3d56a3"/>
<rect x="117.69" y="846.75" width="7.85" height="3.66" fill="#4258a7"/>
<rect x="400.15" y="846.75" width="7.85" height="3.66" fill="#3d56a3"/>
<rect x="227.54" y="850.42" width="7.85" height="3.66" fill="#4258a7"/>
<rect x="400.15" y="850.42" width="7.85" height="3.66" fill="#3d56a3"/>
<rect x="298.15" y="854.08" width="7.85" height="3.66" fill="#f13f40"/>
<rect x="400.15" y="854.08" width="7.85" height="3.66" fill="#3d56a3"/>
<rect x="164.77" y="857.74" width="7.85" height="3.66" fill="#f67671"/>
<rect x="172.62" y="857.74" width="7.85" height="3.66" fill="#f1f1fa"/>
<rect x="353.08" y="857.74" width="7.85" height="3.66" fill="#4258a7"/>
<rect x="400.15" y="857.74" width="7.85" height="3.66" fill="#3d56a3"/>
<rect x="109.85" y="861.4" width="7.85" height="3.66" fill="#cbcbea"/>
<rect x="400.15" y="861.4" width="7.85" height="3.66" fill="#3d56a3"/>
<rect x="400.15" y="865.06" width="7.85" height="3.66" fill="#3d56a3"/>
<rect x="133.38" y="868.73" width="7.85" height="3.66" fill="#636fba"/>
<rect x="282.46" y="868.73" width="7.85" height="3.66" fill="#b3b5e0"/>
<rect x="400.15" y="868.73" width="7.85" height="3.66" fill="#3d56a3"/>
<rect x="164.77" y="872.39" width="7.85" height="3.66" fill="#8a90ce"/>
<rect x="400.15" y="872.39" width="7.85" height="3.66" fill="#3d56a3"/>
<rect x="345.23" y="876.05" width="7.85" height="3.66" fill="#4258a7"/>
<rect x="400.15" y="876.05" width="7.85" height="3.66" fill="#3d56a3"/>
<rect x="298.15" y="879.71" width="7.85" height="3.66" fill="#f13f40"/>
<rect x="400.15" y="879.71" width="7.85" height="3.66" fill="#3d56a3"/>
<rect x="274.62" y="883.38" width="7.85" height="3.66" fill="#636fba"/>
<rect x="282.46" y="883.38" width="7.85" height="3.66" fill="#cbcbea"/>
<rect x="400.15" y="883.38" width="7.85" height="3.66" fill="#3d56a3"/>
<rect x="211.85" y="887.04" width="7.85" height="3.66" fill="#f13f40"/>
<rect x="400.15" y="887.04" width="7.85" height="3.66" fill="#3d56a3"/>
<rect x="196.15" y="890.7" width="7.85" height="3.66" fill="#f1f1fa"/>
<rect x="204" y="890.7" width="7.85" height="3.66" fill="#faa097"/>
<rect x="282.46" y="890.7" width="7.85" height="3.66" fill="#636fba"/>
<rect x="329.54" y="890.7" width="7.85" height="3.66" fill="#8a90ce"/>
<rect x="345.23" y="890.7" width="7.85" height="3.66" fill="#636fba"/>
<rect x="400.15" y="890.7" width="7.85" height="3.66" fill="#3d56a3"/>
<rect x="290.31" y="894.36" width="7.85" height="3.66" fill="#a3a6d9"/>
<rect x="298.15" y="894.36" width="7.85" height="3.66" fill="#f13f40"/>
<rect x="400.15" y="894.36" width="7.85" height="3.66" fill="#3d56a3"/>
<rect x="156.92" y="898.03" width="7.85" height="3.66" fill="#ed1e24"/>
<rect x="400.15" y="898.03" width="7.85" height="3.66" fill="#3d56a3"/>
<rect x="282.46" y="901.69" width="7.85" height="3.66" fill="#bfc0e5"/>
<rect x="329.54" y="901.69" width="7.85" height="3.66" fill="#a3a6d9"/>
<rect x="400.15" y="901.69" width="7.85" height="3.66" fill="#3d56a3"/>
<rect x="109.85" y="905.35" width="7.85" height="3.66" fill="#fdd4ca"/>
<rect x="164.77" y="905.35" width="7.85" height="3.66" fill="#8a90ce"/>
<rect x="180.46" y="905.35" width="7.85" height="3.66" fill="#f1f1fa"/>
<rect x="353.08" y="905.35" width="7.85" height="3.66" fill="#f1f1fa"/>
<rect x="400.15" y="905.35" width="7.85" height="3.66" fill="#3d56a3"/>
<rect x="109.85" y="909.01" width="7.85" height="3.66" fill="#fdd4ca"/>
<rect x="164.77" y="909.01" width="7.85" height="3.66" fill="#a3a6d9"/>
<rect x="400.15" y="909.01" width="7.85" height="3.66" fill="#3d56a3"/>
<rect x="345.23" y="912.68" width="7.85" height="3.66" fill="#4258a7"/>
<rect x="400.15" y="912.68" width="7.85" height="3.66" fill="#3d56a3"/>
<rect x="196.15" y="916.34" width="7.85" height="3.66" fill="#f4635f"/>
<rect x="204" y="916.34" width="7.85" height="3.66" fill="#f2514f"/>
<rect x="251.08" y="916.34" width="7.85" height="3.66" fill="#f67671"/>
<rect x="400.15" y="916.34" width="7.85" height="3.66" fill="#3d56a3"/>
<rect x="400.15" y="920" width="7.85" height="3.66" fill="#3d56a3"/>
<rect x="400.15" y="923.66" width="7.85" height="3.66" fill="#3d56a3"/>
<rect x="172.62" y="927.32" width="7.85" height="3.66" fill="#ffffff"/>
<rect x="251.08" y="927.32" width="7.85" height="3.66" fill="#ed1e24"/>
<rect x="266.77" y="927.32" width="7.85" height="3.66" fill="#636fba"/>
<rect x="345.23" y="927.32" width="7.85" height="3.66" fill="#ffffff"/>
<rect x="400.15" y="927.32" width="7.85" height="3.66" fill="#3d56a3"/>
<rect x="258.92" y="930.99" width="7.85" height="3.66" fill="#bfc0e5"/>
<rect x="400.15" y="930.99" width="7.85" height="3.66" fill="#3d56a3"/>
<rect x="400.15" y="934.65" width="7.85" height="3.66" fill="#3d56a3"/>
<rect x="258.92" y="938.31" width="7.85" height="3.66" fill="#b3b5e0"/>
<rect x="400.15" y="938.31" width="7.85" height="3.66" fill="#3d56a3"/>
<rect x="313.85" y="941.97" width="7.85" height="3.66" fill="#a3a6d9"/>
<rect x="321.69" y="941.97" width="7.85" height="3.66" fill="#f67671"/>
<rect x="384.46" y="941.97" width="7.85" height="3.66" fill="#8a90ce"/>
<rect x="400.15" y="941.97" width="7.85" height="3.66" fill="#3d56a3"/>
<rect x="109.85" y="945.64" width="7.85" height="3.66" fill="#fdd4ca"/>
<rect x="164.77" y="945.64" width="7.85" height="3.66" fill="#4d5fae"/>
<rect x="180.46" y="945.64" width="7.85" height="3.66" fill="#ffffff"/>
<rect x="400.15" y="945.64" width="7.85" height="3.66" fill="#3d56a3"/>
<rect x="141.23" y="949.3" width="7.85" height="3.66" fill="#636fba"/>
<rect x="188.31" y="949.3" width="7.85" height="3.66" fill="#a3a6d9"/>
<rect x="266.77" y="949.3" width="7.85" height="3.66" fill="#ffffff"/>
<rect x="400.15" y="949.3" width="7.85" height="3.66" fill="#3d56a3"/>
<rect x="337.38" y="952.96" width="7.85" height="3.66" fill="#fcc3b9"/>
<rect x="400.15" y="952.96" width="7.85" height="3.66" fill="#3d56a3"/>
<rect x="156.92" y="956.62" width="7.85" height="3.66" fill="#8a90ce"/>
<rect x="282.46" y="956.62" width="7.85" height="3.66" fill="#a3a6d9"/>
<rect x="400.15" y="956.62" width="7.85" height="3.66" fill="#3d56a3"/>
<rect x="133.38" y="960.29" width="7.85" height="3.66" fill="#636fba"/>
<rect x="156.92" y="960.29" width="7.85" height="3.66" fill="#faa097"/>
<rect x="282.46" y="960.29" width="7.85" height="3.66" fill="#faa097"/>
<rect x="329.54" y="960.29" width="7.85" height="3.66" fill="#faa097"/>
<rect x="400.15" y="960.29" width="7.85" height="3.66" fill="#3d56a3"/>
<rect x="141.23" y="963.95" width="7.85" height="3.66" fill="#4d5fae"/>
<rect x="266.77" y="963.95" width="7.85" height="3.66" fill="#fdd4ca"/>
<rect x="400.15" y="963.95" width="7.85" height="3.66" fill="#3d56a3"/>
<rect x="204" y="967.61" width="7.85" height="3.66" fill="#8a90ce"/>
<rect x="298.15" y="967.61" width="7.85" height="3.66" fill="#f88b83"/>
<rect x="353.08" y="967.61" width="7.85" height="3.66" fill="#636fba"/>
<rect x="400.15" y="967.61" width="7.85" height="3.66" fill="#3d56a3"/>
<rect x="109.85" y="971.27" width="7.85" height="3.66" fill="#4d5fae"/>
<rect x="251.08" y="971.27" width="7.85" height="3.66" fill="#ed1e24"/>
<rect x="306" y="971.27" width="7.85" height="3.66" fill="#b3b5e0"/>
<rect x="329.54" y="971.27" width="7.85" height="3.66" fill="#f13f40"/>
<rect x="392.31" y="971.27" width="7.85" height="3.66" fill="#ffffff"/>
<rect x="400.15" y="971.27" width="7.85" height="3.66" fill="#3d56a3"/>
<rect x="211.85" y="974.94" width="7.85" height="3.66" fill="#bfc0e5"/>
<rect x="274.62" y="974.94" width="7.85" height="3.66" fill="#f88b83"/>
<rect x="345.23" y="974.94" width="7.85" height="3.66" fill="#8a90ce"/>
<rect x="400.15" y="974.94" width="7.85" height="3.66" fill="#3d56a3"/>
<rect x="102" y="978.6" width="7.85" height="3.66" fill="#ffffff"/>
<rect x="172.62" y="978.6" width="7.85" height="3.66" fill="#ed1e24"/>
<rect x="196.15" y="978.6" width="7.85" height="3.66" fill="#fcc3b9"/>
<rect x="274.62" y="978.6" width="7.85" height="3.66" fill="#8a90ce"/>
<rect x="290.31" y="978.6" width="7.85" height="3.66" fill="#b3b5e0"/>
<rect x="321.69" y="978.6" width="7.85" height="3.66" fill="#f13f40"/>
<rect x="345.23" y="978.6" width="7.85" height="3.66" fill="#f13f40"/>
<rect x="400.15" y="978.6" width="7.85" height="3.66" fill="#3d56a3"/>
<rect x="109.85" y="982.26" width="7.85" height="3.66" fill="#ed1e24"/>
<rect x="211.85" y="982.26" width="7.85" height="3.66" fill="#b3b5e0"/>
<rect x="258.92" y="982.26" width="7.85" height="3.66" fill="#cbcbea"/>
<rect x="345.23" y="982.26" width="7.85" height="3.66" fill="#a3a6d9"/>
<rect x="353.08" y="982.26" width="7.85" height="3.66" fill="#636fba"/>
<rect x="400.15" y="982.26" width="7.85" height="3.66" fill="#3d56a3"/>
<rect x="400.15" y="985.92" width="7.85" height="3.66" fill="#3d56a3"/>
<rect x="149.08" y="989.58" width="7.85" height="3.66" fill="#bfc0e5"/>
<rect x="180.46" y="989.58" width="7.85" height="3.66" fill="#f67671"/>
<rect x="306" y="989.58" width="7.85" height="3.66" fill="#f67671"/>
<rect x="353.08" y="989.58" width="7.85" height="3.66" fill="#f67671"/>
<rect x="360.92" y="989.58" width="7.85" height="3.66" fill="#b3b5e0"/>
<rect x="384.46" y="989.58" width="7.85" height="3.66" fill="#ffffff"/>
<rect x="392.31" y="989.58" width="7.85" height="3.66" fill="#f13f40"/>
<rect x="400.15" y="989.58" width="7.85" height="3.66" fill="#3d56a3"/>
<rect x="133.38" y="993.25" width="7.85" height="3.66" fill="#636fba"/>
<rect x="156.92" y="993.25" width="7.85" height="3.66" fill="#ed1e24"/>
<rect x="180.46" y="993.25" width="7.85" height="3.66" fill="#bfc0e5"/>
<rect x="196.15" y="993.25" width="7.85" height="3.66" fill="#fbb8ae"/>
<rect x="251.08" y="993.25" width="7.85" height="3.66" fill="#636fba"/>
<rect x="274.62" y="993.25" width="7.85" height="3.66" fill="#ebeaf7"/>
<rect x="282.46" y="993.25" width="7.85" height="3.66" fill="#ebeaf7"/>
<rect x="329.54" y="993.25" width="7.85" height="3.66" fill="#a3a6d9"/>
<rect x="345.23" y="993.25" width="7.85" height="3.66" fill="#8a90ce"/>
<rect x="400.15" y="993.25" width="7.85" height="3.66" fill="#3d56a3"/>
<rect x="172.62" y="996.91" width="7.85" height="3.66" fill="#ffffff"/>
<rect x="180.46" y="996.91" width="7.85" height="3.66" fill="#ffffff"/>
<rect x="204" y="996.91" width="7.85" height="3.66" fill="#ffffff"/>
<rect x="345.23" y="996.91" width="7.85" height="3.66" fill="#bfc0e5"/>
<rect x="353.08" y="996.91" width="7.85" height="3.66" fill="#f2514f"/>
<rect x="400.15" y="996.91" width="7.85" height="3.66" fill="#3d56a3"/>
<rect x="109.85" y="1000.57" width="7.85" height="3.66" fill="#ed1e24"/>
<rect x="117.69" y="1000.57" width="7.85" height="3.66" fill="#ffffff"/>
<rect x="360.92" y="1000.57" width="7.85" height="3.66" fill="#bfc0e5"/>
<rect x="400.15" y="1000.57" width="7.85" height="3.66" fill="#3d56a3"/>
<rect x="133.38" y="1004.23" width="7.85" height="3.66" fill="#636fba"/>
<rect x="164.77" y="1004.23" width="7.85" height="3.66" fill="#4d5fae"/>
<rect x="204" y="1004.23" width="7.85" height="3.66" fill="#8a90ce"/>
<rect x="235.38" y="1004.23" width="7.85" height="3.66" fill="#636fba"/>
<rect x="251.08" y="1004.23" width="7.85" height="3.66" fill="#f67671"/>
<rect x="298.15" y="1004.23" width="7.85" height="3.66" fill="#bfc0e5"/>
<rect x="321.69" y="1004.23" width="7.85" height="3.66" fill="#ffffff"/>
<rect x="360.92" y="1004.23" width="7.85" height="3.66" fill="#b3b5e0"/>
<rect x="368.77" y="1004.23" width="7.85" height="3.66" fill="#636fba"/>
<rect x="400.15" y="1004.23" width="7.85" height="3.66" fill="#3d56a3"/>
<rect x="102" y="1007.9" width="7.85" height="3.66" fill="#b3b5e0"/>
<rect x="172.62" y="1007.9" width="7.85" height="3.66" fill="#8a90ce"/>
<rect x="258.92" y="1007.9" width="7.85" height="3.66" fill="#ffffff"/>
<rect x="353.08" y="1007.9" width="7.85" height="3.66" fill="#8a90ce"/>
<rect x="400.15" y="1007.9" width="7.85" height="3.66" fill="#3d56a3"/>
<rect x="125.54" y="1011.56" width="7.85" height="3.66" fill="#faa097"/>
<rect x="196.15" y="1011.56" width="7.85" height="3.66" fill="#bfc0e5"/>
<rect x="251.08" y="1011.56" width="7.85" height="3.66" fill="#ed1e24"/>
<rect x="345.23" y="1011.56" width="7.85" height="3.66" fill="#ffffff"/>
<rect x="353.08" y="1011.56" width="7.85" height="3.66" fill="#f67671"/>
<rect x="368.77" y="1011.56" width="7.85" height="3.66" fill="#f13f40"/>
<rect x="400.15" y="1011.56" width="7.85" height="3.66" fill="#3d56a3"/>
<rect x="102" y="1015.22" width="7.85" height="3.66" fill="#ffffff"/>
<rect x="117.69" y="1015.22" width="7.85" height="3.66" fill="#b3b5e0"/>
<rect x="204" y="1015.22" width="7.85" height="3.66" fill="#f13f40"/>
<rect x="306" y="1015.22" width="7.85" height="3.66" fill="#f13f40"/>
<rect x="353.08" y="1015.22" width="7.85" height="3.66" fill="#f1f1fa"/>
<rect x="392.31" y="1015.22" width="7.85" height="3.66" fill="#f13f40"/>
<rect x="400.15" y="1015.22" width="7.85" height="3.66" fill="#3d56a3"/>
<rect x="180.46" y="1018.88" width="7.85" height="3.66" fill="#8a90ce"/>
<rect x="227.54" y="1018.88" width="7.85" height="3.66" fill="#636fba"/>
<rect x="258.92" y="1018.88" width="7.85" height="3.66" fill="#b3b5e0"/>
<rect x="274.62" y="1018.88" width="7.85" height="3.66" fill="#ed1e24"/>
<rect x="313.85" y="1018.88" width="7.85" height="3.66" fill="#f88b83"/>
<rect x="368.77" y="1018.88" width="7.85" height="3.66" fill="#bfc0e5"/>
<rect x="392.31" y="1018.88" width="7.85" height="3.66" fill="#fbb8ae"/>
<rect x="400.15" y="1018.88" width="7.85" height="3.66" fill="#3d56a3"/>
<rect x="133.38" y="1022.55" width="7.85" height="3.66" fill="#f1f1fa"/>
<rect x="149.08" y="1022.55" width="7.85" height="3.66" fill="#ddddf2"/>
<rect x="156.92" y="1022.55" width="7.85" height="3.66" fill="#f13f40"/>
<rect x="180.46" y="1022.55" width="7.85" height="3.66" fill="#fcc3b9"/>
<rect x="282.46" y="1022.55" width="7.85" height="3.66" fill="#ffffff"/>
<rect x="306" y="1022.55" width="7.85" height="3.66" fill="#f2514f"/>
<rect x="329.54" y="1022.55" width="7.85" height="3.66" fill="#f13f40"/>
<rect x="360.92" y="1022.55" width="7.85" height="3.66" fill="#faa097"/>
<rect x="384.46" y="1022.55" width="7.85" height="3.66" fill="#ffffff"/>
<rect x="392.31" y="1022.55" width="7.85" height="3.66" fill="#f13f40"/>
<rect x="400.15" y="1022.55" width="7.85" height="3.66" fill="#3d56a3"/>
<rect x="172.62" y="1026.21" width="7.85" height="3.66" fill="#f2514f"/>
<rect x="196.15" y="1026.21" width="7.85" height="3.66" fill="#f88b83"/>
<rect x="243.23" y="1026.21" width="7.85" height="3.66" fill="#a3a6d9"/>
<rect x="345.23" y="1026.21" width="7.85" height="3.66" fill="#fee9e1"/>
<rect x="400.15" y="1026.21" width="7.85" height="3.66" fill="#3d56a3"/>
<rect x="109.85" y="1029.87" width="7.85" height="3.66" fill="#ed1e24"/>
<rect x="156.92" y="1029.87" width="7.85" height="3.66" fill="#cbcbea"/>
<rect x="164.77" y="1029.87" width="7.85" height="3.66" fill="#f88b83"/>
<rect x="180.46" y="1029.87" width="7.85" height="3.66" fill="#ffffff"/>
<rect x="321.69" y="1029.87" width="7.85" height="3.66" fill="#a3a6d9"/>
<rect x="392.31" y="1029.87" width="7.85" height="3.66" fill="#b3b5e0"/>
<rect x="400.15" y="1029.87" width="7.85" height="3.66" fill="#3e56a4"/>
<rect x="188.31" y="1033.53" width="7.85" height="3.66" fill="#b3b5e0"/>
<rect x="227.54" y="1033.53" width="7.85" height="3.66" fill="#8a90ce"/>
<rect x="274.62" y="1033.53" width="7.85" height="3.66" fill="#fdd4ca"/>
<rect x="337.38" y="1033.53" width="7.85" height="3.66" fill="#ffffff"/>
<rect x="353.08" y="1033.53" width="7.85" height="3.66" fill="#f1f1fa"/>
<rect x="400.15" y="1033.53" width="7.85" height="3.66" fill="#3e56a4"/>
<rect x="164.77" y="1037.19" width="7.85" height="3.66" fill="#f2514f"/>
<rect x="243.23" y="1037.19" width="7.85" height="3.66" fill="#8a90ce"/>
<rect x="321.69" y="1037.19" width="7.85" height="3.66" fill="#a3a6d9"/>
<rect x="337.38" y="1037.19" width="7.85" height="3.66" fill="#ddddf2"/>
<rect x="400.15" y="1037.19" width="7.85" height="3.66" fill="#3e56a4"/>
<rect x="133.38" y="1040.86" width="7.85" height="3.66" fill="#636fba"/>
<rect x="156.92" y="1040.86" width="7.85" height="3.66" fill="#f88b83"/>
<rect x="164.77" y="1040.86" width="7.85" height="3.66" fill="#b3b5e0"/>
<rect x="258.92" y="1040.86" width="7.85" height="3.66" fill="#b3b5e0"/>
<rect x="282.46" y="1040.86" width="7.85" height="3.66" fill="#f2514f"/>
<rect x="298.15" y="1040.86" width="7.85" height="3.66" fill="#a3a6d9"/>
<rect x="400.15" y="1040.86" width="7.85" height="3.66" fill="#3e56a4"/>
<rect x="125.54" y="1044.52" width="7.85" height="3.66" fill="#b3b5e0"/>
<rect x="133.38" y="1044.52" width="7.85" height="3.66" fill="#636fba"/>
<rect x="156.92" y="1044.52" width="7.85" height="3.66" fill="#ddddf2"/>
<rect x="180.46" y="1044.52" width="7.85" height="3.66" fill="#f1f1fa"/>
<rect x="251.08" y="1044.52" width="7.85" height="3.66" fill="#fdd4ca"/>
<rect x="282.46" y="1044.52" width="7.85" height="3.66" fill="#ddddf2"/>
<rect x="329.54" y="1044.52" width="7.85" height="3.66" fill="#f13f40"/>
<rect x="353.08" y="1044.52" width="7.85" height="3.66" fill="#ddddf2"/>
<rect x="368.77" y="1044.52" width="7.85" height="3.66" fill="#b3b5e0"/>
<rect x="384.46" y="1044.52" width="7.85" height="3.66" fill="#8a90ce"/>
<rect x="400.15" y="1044.52" width="7.85" height="3.66" fill="#3e56a4"/>
<rect x="164.77" y="1048.18" width="7.85" height="3.66" fill="#cbcbea"/>
<rect x="172.62" y="1048.18" width="7.85" height="3.66" fill="#f13f40"/>
<rect x="345.23" y="1048.18" width="7.85" height="3.66" fill="#ffffff"/>
<rect x="400.15" y="1048.18" width="7.85" height="3.66" fill="#3e56a4"/>
<rect x="196.15" y="1051.84" width="7.85" height="3.66" fill="#f13f40"/>
<rect x="204" y="1051.84" width="7.85" height="3.66" fill="#f13f40"/>
<rect x="251.08" y="1051.84" width="7.85" height="3.66" fill="#f13f40"/>
<rect x="298.15" y="1051.84" width="7.85" height="3.66" fill="#cbcbea"/>
<rect x="329.54" y="1051.84" width="7.85" height="3.66" fill="#ffffff"/>
<rect x="353.08" y="1051.84" width="7.85" height="3.66" fill="#f13f40"/>
<rect x="400.15" y="1051.84" width="7.85" height="3.66" fill="#3e56a4"/>
<rect x="164.77" y="1055.51" width="7.85" height="3.66" fill="#ffffff"/>
<rect x="188.31" y="1055.51" width="7.85" height="3.66" fill="#f1f1fa"/>
<rect x="337.38" y="1055.51" width="7.85" height="3.66" fill="#8a90ce"/>
<rect x="400.15" y="1055.51" width="7.85" height="3.66" fill="#4258a7"/>
<rect x="133.38" y="1059.17" width="7.85" height="3.66" fill="#636fba"/>
<rect x="156.92" y="1059.17" width="7.85" height="3.66" fill="#f88b83"/>
<rect x="196.15" y="1059.17" width="7.85" height="3.66" fill="#f88b83"/>
<rect x="204" y="1059.17" width="7.85" height="3.66" fill="#f13f40"/>
<rect x="251.08" y="1059.17" width="7.85" height="3.66" fill="#ed1e24"/>
<rect x="266.77" y="1059.17" width="7.85" height="3.66" fill="#a3a6d9"/>
<rect x="282.46" y="1059.17" width="7.85" height="3.66" fill="#bfc0e5"/>
<rect x="298.15" y="1059.17" width="7.85" height="3.66" fill="#f13f40"/>
<rect x="306" y="1059.17" width="7.85" height="3.66" fill="#b3b5e0"/>
<rect x="329.54" y="1059.17" width="7.85" height="3.66" fill="#f9938b"/>
<rect x="400.15" y="1059.17" width="7.85" height="3.66" fill="#4258a7"/>
<rect x="180.46" y="1062.83" width="7.85" height="3.66" fill="#f2514f"/>
<rect x="219.69" y="1062.83" width="7.85" height="3.66" fill="#bfc0e5"/>
<rect x="227.54" y="1062.83" width="7.85" height="3.66" fill="#ffffff"/>
<rect x="306" y="1062.83" width="7.85" height="3.66" fill="#fdd4ca"/>
<rect x="313.85" y="1062.83" width="7.85" height="3.66" fill="#faa097"/>
<rect x="337.38" y="1062.83" width="7.85" height="3.66" fill="#8a90ce"/>
<rect x="353.08" y="1062.83" width="7.85" height="3.66" fill="#f67671"/>
<rect x="384.46" y="1062.83" width="7.85" height="3.66" fill="#a3a6d9"/>
<rect x="392.31" y="1062.83" width="7.85" height="3.66" fill="#ffffff"/>
<rect x="400.15" y="1062.83" width="7.85" height="3.66" fill="#4258a7"/>
<rect x="125.54" y="1066.49" width="7.85" height="3.66" fill="#ed1e24"/>
<rect x="133.38" y="1066.49" width="7.85" height="3.66" fill="#bfc0e5"/>
<rect x="156.92" y="1066.49" width="7.85" height="3.66" fill="#ed1e24"/>
<rect x="180.46" y="1066.49" width="7.85" height="3.66" fill="#f13f40"/>
<rect x="282.46" y="1066.49" width="7.85" height="3.66" fill="#f2514f"/>
<rect x="329.54" y="1066.49" width="7.85" height="3.66" fill="#ffffff"/>
<rect x="353.08" y="1066.49" width="7.85" height="3.66" fill="#f2514f"/>
<rect x="360.92" y="1066.49" width="7.85" height="3.66" fill="#b3b5e0"/>
<rect x="368.77" y="1066.49" width="7.85" height="3.66" fill="#f13f40"/>
<rect x="376.62" y="1066.49" width="7.85" height="3.66" fill="#f67671"/>
<rect x="400.15" y="1066.49" width="7.85" height="3.66" fill="#5464b2"/>
<rect x="117.69" y="1070.16" width="7.85" height="3.66" fill="#f1f1fa"/>
<rect x="164.77" y="1070.16" width="7.85" height="3.66" fill="#636fba"/>
<rect x="180.46" y="1070.16" width="7.85" height="3.66" fill="#faa097"/>
<rect x="306" y="1070.16" width="7.85" height="3.66" fill="#b3b5e0"/>
<rect x="329.54" y="1070.16" width="7.85" height="3.66" fill="#fdd4ca"/>
<rect x="353.08" y="1070.16" width="7.85" height="3.66" fill="#f2514f"/>
<rect x="392.31" y="1070.16" width="7.85" height="3.66" fill="#fee9e1"/>
<rect x="400.15" y="1070.16" width="7.85" height="3.66" fill="#5464b2"/>
<rect x="133.38" y="1073.82" width="7.85" height="3.66" fill="#ffffff"/>
<rect x="149.08" y="1073.82" width="7.85" height="3.66" fill="#ddddf2"/>
<rect x="156.92" y="1073.82" width="7.85" height="3.66" fill="#ed1e24"/>
<rect x="180.46" y="1073.82" width="7.85" height="3.66" fill="#f2514f"/>
<rect x="282.46" y="1073.82" width="7.85" height="3.66" fill="#ffffff"/>
<rect x="306" y="1073.82" width="7.85" height="3.66" fill="#ffffff"/>
<rect x="329.54" y="1073.82" width="7.85" height="3.66" fill="#f2514f"/>
<rect x="353.08" y="1073.82" width="7.85" height="3.66" fill="#faa097"/>
<rect x="360.92" y="1073.82" width="7.85" height="3.66" fill="#b3b5e0"/>
<rect x="376.62" y="1073.82" width="7.85" height="3.66" fill="#f67671"/>
<rect x="384.46" y="1073.82" width="7.85" height="3.66" fill="#ffffff"/>
<rect x="392.31" y="1073.82" width="7.85" height="3.66" fill="#f13f40"/>
<rect x="400.15" y="1073.82" width="7.85" height="3.66" fill="#5464b2"/>
<rect x="102" y="1077.48" width="7.85" height="3.66" fill="#ffffff"/>
<rect x="117.69" y="1077.48" width="7.85" height="3.66" fill="#ffffff"/>
<rect x="196.15" y="1077.48" width="7.85" height="3.66" fill="#a3a6d9"/>
<rect x="211.85" y="1077.48" width="7.85" height="3.66" fill="#faa097"/>
<rect x="258.92" y="1077.48" width="7.85" height="3.66" fill="#b3b5e0"/>
<rect x="274.62" y="1077.48" width="7.85" height="3.66" fill="#f13f40"/>
<rect x="298.15" y="1077.48" width="7.85" height="3.66" fill="#a3a6d9"/>
<rect x="313.85" y="1077.48" width="7.85" height="3.66" fill="#ddddf2"/>
<rect x="321.69" y="1077.48" width="7.85" height="3.66" fill="#f67671"/>
<rect x="329.54" y="1077.48" width="7.85" height="3.66" fill="#f13f40"/>
<rect x="376.62" y="1077.48" width="7.85" height="3.66" fill="#f88b83"/>
<rect x="400.15" y="1077.48" width="7.85" height="3.66" fill="#5464b2"/>
<rect x="149.08" y="1081.14" width="7.85" height="3.66" fill="#bfc0e5"/>
<rect x="180.46" y="1081.14" width="7.85" height="3.66" fill="#f13f40"/>
<rect x="266.77" y="1081.14" width="7.85" height="3.66" fill="#faa097"/>
<rect x="337.38" y="1081.14" width="7.85" height="3.66" fill="#ffffff"/>
<rect x="353.08" y="1081.14" width="7.85" height="3.66" fill="#ddddf2"/>
<rect x="392.31" y="1081.14" width="7.85" height="3.66" fill="#ffffff"/>
<rect x="400.15" y="1081.14" width="7.85" height="3.66" fill="#5464b2"/>
<rect x="102" y="1084.81" width="7.85" height="3.66" fill="#ffffff"/>
<rect x="109.85" y="1084.81" width="7.85" height="3.66" fill="#b3b5e0"/>
<rect x="117.69" y="1084.81" width="7.85" height="3.66" fill="#fee9e1"/>
<rect x="133.38" y="1084.81" width="7.85" height="3.66" fill="#636fba"/>
<rect x="156.92" y="1084.81" width="7.85" height="3.66" fill="#f9938b"/>
<rect x="164.77" y="1084.81" width="7.85" height="3.66" fill="#b3b5e0"/>
<rect x="204" y="1084.81" width="7.85" height="3.66" fill="#b3b5e0"/>
<rect x="251.08" y="1084.81" width="7.85" height="3.66" fill="#ffffff"/>
<rect x="282.46" y="1084.81" width="7.85" height="3.66" fill="#ffffff"/>
<rect x="306" y="1084.81" width="7.85" height="3.66" fill="#f2514f"/>
<rect x="329.54" y="1084.81" width="7.85" height="3.66" fill="#f13f40"/>
<rect x="360.92" y="1084.81" width="7.85" height="3.66" fill="#bfc0e5"/>
<rect x="368.77" y="1084.81" width="7.85" height="3.66" fill="#ddddf2"/>
<rect x="392.31" y="1084.81" width="7.85" height="3.66" fill="#f2514f"/>
<rect x="400.15" y="1084.81" width="7.85" height="3.66" fill="#6974be"/>
<rect x="290.31" y="1088.47" width="7.85" height="3.66" fill="#8a90ce"/>
<rect x="400.15" y="1088.47" width="7.85" height="3.66" fill="#6974be"/>
<rect x="188.31" y="1092.13" width="7.85" height="3.66" fill="#f2514f"/>
<rect x="196.15" y="1092.13" width="7.85" height="3.66" fill="#f88b83"/>
<rect x="204" y="1092.13" width="7.85" height="3.66" fill="#f13f40"/>
<rect x="219.69" y="1092.13" width="7.85" height="3.66" fill="#f13f40"/>
<rect x="227.54" y="1092.13" width="7.85" height="3.66" fill="#f88b83"/>
<rect x="313.85" y="1092.13" width="7.85" height="3.66" fill="#f13f40"/>
<rect x="337.38" y="1092.13" width="7.85" height="3.66" fill="#faa097"/>
<rect x="345.23" y="1092.13" width="7.85" height="3.66" fill="#a3a6d9"/>
<rect x="400.15" y="1092.13" width="7.85" height="3.66" fill="#6974be"/>
<rect x="141.23" y="1095.79" width="7.85" height="3.66" fill="#f13f40"/>
<rect x="188.31" y="1095.79" width="7.85" height="3.66" fill="#f2514f"/>
<rect x="219.69" y="1095.79" width="7.85" height="3.66" fill="#b3b5e0"/>
<rect x="227.54" y="1095.79" width="7.85" height="3.66" fill="#ffffff"/>
<rect x="251.08" y="1095.79" width="7.85" height="3.66" fill="#f13f40"/>
<rect x="337.38" y="1095.79" width="7.85" height="3.66" fill="#ffffff"/>
<rect x="400.15" y="1095.79" width="7.85" height="3.66" fill="#a3a6d9"/>
<rect x="117.69" y="1099.45" width="7.85" height="3.66" fill="#f13f40"/>
<rect x="133.38" y="1099.45" width="7.85" height="3.66" fill="#a3a6d9"/>
<rect x="149.08" y="1099.45" width="7.85" height="3.66" fill="#faa097"/>
<rect x="156.92" y="1099.45" width="7.85" height="3.66" fill="#ed1e24"/>
<rect x="164.77" y="1099.45" width="7.85" height="3.66" fill="#fbb8ae"/>
<rect x="172.62" y="1099.45" width="7.85" height="3.66" fill="#f2514f"/>
<rect x="180.46" y="1099.45" width="7.85" height="3.66" fill="#f4635f"/>
<rect x="251.08" y="1099.45" width="7.85" height="3.66" fill="#f13f40"/>
<rect x="282.46" y="1099.45" width="7.85" height="3.66" fill="#bfc0e5"/>
<rect x="306" y="1099.45" width="7.85" height="3.66" fill="#faa097"/>
<rect x="329.54" y="1099.45" width="7.85" height="3.66" fill="#f13f40"/>
<rect x="345.23" y="1099.45" width="7.85" height="3.66" fill="#fdd4ca"/>
<rect x="353.08" y="1099.45" width="7.85" height="3.66" fill="#f13f40"/>
<rect x="360.92" y="1099.45" width="7.85" height="3.66" fill="#bfc0e5"/>
<rect x="384.46" y="1099.45" width="7.85" height="3.66" fill="#ffffff"/>
<rect x="392.31" y="1099.45" width="7.85" height="3.66" fill="#f13f40"/>
<rect x="400.15" y="1099.45" width="7.85" height="3.66" fill="#a3a6d9"/>
<rect x="133.38" y="1103.12" width="7.85" height="3.66" fill="#ddddf2"/>
<rect x="149.08" y="1103.12" width="7.85" height="3.66" fill="#f88b83"/>
<rect x="156.92" y="1103.12" width="7.85" height="3.66" fill="#ed1e24"/>
<rect x="180.46" y="1103.12" width="7.85" height="3.66" fill="#f13f40"/>
<rect x="211.85" y="1103.12" width="7.85" height="3.66" fill="#f9938b"/>
<rect x="282.46" y="1103.12" width="7.85" height="3.66" fill="#f13f40"/>
<rect x="306" y="1103.12" width="7.85" height="3.66" fill="#f13f40"/>
<rect x="329.54" y="1103.12" width="7.85" height="3.66" fill="#bfc0e5"/>
<rect x="345.23" y="1103.12" width="7.85" height="3.66" fill="#faa097"/>
<rect x="353.08" y="1103.12" width="7.85" height="3.66" fill="#ed1e24"/>
<rect x="360.92" y="1103.12" width="7.85" height="3.66" fill="#f2514f"/>
<rect x="376.62" y="1103.12" width="7.85" height="3.66" fill="#f2514f"/>
<rect x="384.46" y="1103.12" width="7.85" height="3.66" fill="#faa097"/>
<rect x="392.31" y="1103.12" width="7.85" height="3.66" fill="#f13f40"/>
<rect x="400.15" y="1103.12" width="7.85" height="3.66" fill="#a3a6d9"/>
<rect x="117.69" y="1106.78" width="7.85" height="3.66" fill="#a3a6d9"/>
<rect x="156.92" y="1106.78" width="7.85" height="3.66" fill="#a3a6d9"/>
<rect x="180.46" y="1106.78" width="7.85" height="3.66" fill="#f2514f"/>
<rect x="243.23" y="1106.78" width="7.85" height="3.66" fill="#a3a6d9"/>
<rect x="258.92" y="1106.78" width="7.85" height="3.66" fill="#ffffff"/>
<rect x="274.62" y="1106.78" width="7.85" height="3.66" fill="#fdd4ca"/>
<rect x="353.08" y="1106.78" width="7.85" height="3.66" fill="#f13f40"/>
<rect x="400.15" y="1106.78" width="7.85" height="3.66" fill="#a3a6d9"/>
<rect x="109.85" y="1110.44" width="7.85" height="3.66" fill="#faa097"/>
<rect x="117.69" y="1110.44" width="7.85" height="3.66" fill="#8a90ce"/>
<rect x="180.46" y="1110.44" width="7.85" height="3.66" fill="#f2514f"/>
<rect x="219.69" y="1110.44" width="7.85" height="3.66" fill="#ddddf2"/>
<rect x="274.62" y="1110.44" width="7.85" height="3.66" fill="#f13f40"/>
<rect x="306" y="1110.44" width="7.85" height="3.66" fill="#fbb8ae"/>
<rect x="313.85" y="1110.44" width="7.85" height="3.66" fill="#f67671"/>
<rect x="337.38" y="1110.44" width="7.85" height="3.66" fill="#bfc0e5"/>
<rect x="345.23" y="1110.44" width="7.85" height="3.66" fill="#fee9e1"/>
<rect x="353.08" y="1110.44" width="7.85" height="3.66" fill="#f88b83"/>
<rect x="384.46" y="1110.44" width="7.85" height="3.66" fill="#ffffff"/>
<rect x="392.31" y="1110.44" width="7.85" height="3.66" fill="#faa097"/>
<rect x="400.15" y="1110.44" width="7.85" height="3.66" fill="#a3a6d9"/>
<rect x="141.23" y="1114.1" width="7.85" height="3.66" fill="#f13f40"/>
<rect x="188.31" y="1114.1" width="7.85" height="3.66" fill="#f2514f"/>
<rect x="219.69" y="1114.1" width="7.85" height="3.66" fill="#fcc3b9"/>
<rect x="227.54" y="1114.1" width="7.85" height="3.66" fill="#f67671"/>
<rect x="266.77" y="1114.1" width="7.85" height="3.66" fill="#f13f40"/>
<rect x="337.38" y="1114.1" width="7.85" height="3.66" fill="#f13f40"/>
<rect x="400.15" y="1114.1" width="7.85" height="3.66" fill="#a3a6d9"/>
<rect x="117.69" y="1117.77" width="7.85" height="3.66" fill="#ed1e24"/>
<rect x="125.54" y="1117.77" width="7.85" height="3.66" fill="#ed1e24"/>
<rect x="149.08" y="1117.77" width="7.85" height="3.66" fill="#bfc0e5"/>
<rect x="164.77" y="1117.77" width="7.85" height="3.66" fill="#f13f40"/>
<rect x="196.15" y="1117.77" width="7.85" height="3.66" fill="#f2514f"/>
<rect x="306" y="1117.77" width="7.85" height="3.66" fill="#f13f40"/>
<rect x="353.08" y="1117.77" width="7.85" height="3.66" fill="#ffffff"/>
<rect x="360.92" y="1117.77" width="7.85" height="3.66" fill="#faa097"/>
<rect x="368.77" y="1117.77" width="7.85" height="3.66" fill="#faa097"/>
<rect x="376.62" y="1117.77" width="7.85" height="3.66" fill="#ed1e24"/>
<rect x="384.46" y="1117.77" width="7.85" height="3.66" fill="#f13f40"/>
<rect x="392.31" y="1117.77" width="7.85" height="3.66" fill="#f13f40"/>
<rect x="400.15" y="1117.77" width="7.85" height="3.66" fill="#b3b5e0"/>
<rect x="149.08" y="1121.43" width="7.85" height="3.66" fill="#ddddf2"/>
<rect x="156.92" y="1121.43" width="7.85" height="3.66" fill="#ed1e24"/>
<rect x="164.77" y="1121.43" width="7.85" height="3.66" fill="#ffffff"/>
<rect x="172.62" y="1121.43" width="7.85" height="3.66" fill="#ed1e24"/>
<rect x="180.46" y="1121.43" width="7.85" height="3.66" fill="#ed1e24"/>
<rect x="196.15" y="1121.43" width="7.85" height="3.66" fill="#a3a6d9"/>
<rect x="204" y="1121.43" width="7.85" height="3.66" fill="#ed1e24"/>
<rect x="219.69" y="1121.43" width="7.85" height="3.66" fill="#ddddf2"/>
<rect x="227.54" y="1121.43" width="7.85" height="3.66" fill="#a3a6d9"/>
<rect x="243.23" y="1121.43" width="7.85" height="3.66" fill="#a3a6d9"/>
<rect x="274.62" y="1121.43" width="7.85" height="3.66" fill="#ffffff"/>
<rect x="282.46" y="1121.43" width="7.85" height="3.66" fill="#faa097"/>
<rect x="290.31" y="1121.43" width="7.85" height="3.66" fill="#bfc0e5"/>
<rect x="306" y="1121.43" width="7.85" height="3.66" fill="#faa097"/>
<rect x="313.85" y="1121.43" width="7.85" height="3.66" fill="#ed1e24"/>
<rect x="329.54" y="1121.43" width="7.85" height="3.66" fill="#ed1e24"/>
<rect x="345.23" y="1121.43" width="7.85" height="3.66" fill="#ffffff"/>
<rect x="353.08" y="1121.43" width="7.85" height="3.66" fill="#ed1e24"/>
<rect x="392.31" y="1121.43" width="7.85" height="3.66" fill="#ffffff"/>
<rect x="400.15" y="1121.43" width="7.85" height="3.66" fill="#b3b5e0"/>
<rect x="117.69" y="1125.09" width="7.85" height="3.66" fill="#fdd4ca"/>
<rect x="125.54" y="1125.09" width="7.85" height="3.66" fill="#f88b83"/>
<rect x="149.08" y="1125.09" width="7.85" height="3.66" fill="#f4635f"/>
<rect x="180.46" y="1125.09" width="7.85" height="3.66" fill="#a3a6d9"/>
<rect x="196.15" y="1125.09" width="7.85" height="3.66" fill="#a3a6d9"/>
<rect x="204" y="1125.09" width="7.85" height="3.66" fill="#ffffff"/>
<rect x="219.69" y="1125.09" width="7.85" height="3.66" fill="#b3b5e0"/>
<rect x="235.38" y="1125.09" width="7.85" height="3.66" fill="#ed1e24"/>
<rect x="243.23" y="1125.09" width="7.85" height="3.66" fill="#ed1e24"/>
<rect x="306" y="1125.09" width="7.85" height="3.66" fill="#ed1e24"/>
<rect x="321.69" y="1125.09" width="7.85" height="3.66" fill="#ffffff"/>
<rect x="353.08" y="1125.09" width="7.85" height="3.66" fill="#a3a6d9"/>
<rect x="368.77" y="1125.09" width="7.85" height="3.66" fill="#faa097"/>
<rect x="376.62" y="1125.09" width="7.85" height="3.66" fill="#ed1e24"/>
<rect x="384.46" y="1125.09" width="7.85" height="3.66" fill="#f88b83"/>
<rect x="392.31" y="1125.09" width="7.85" height="3.66" fill="#ed1e24"/>
<rect x="400.15" y="1125.09" width="7.85" height="3.66" fill="#b3b5e0"/>
<rect x="133.38" y="1128.75" width="7.85" height="3.66" fill="#ddddf2"/>
<rect x="141.23" y="1128.75" width="7.85" height="3.66" fill="#ed1e24"/>
<rect x="156.92" y="1128.75" width="7.85" height="3.66" fill="#ed1e24"/>
<rect x="188.31" y="1128.75" width="7.85" height="3.66" fill="#ed1e24"/>
<rect x="196.15" y="1128.75" width="7.85" height="3.66" fill="#ed1e24"/>
<rect x="219.69" y="1128.75" width="7.85" height="3.66" fill="#fdd4ca"/>
<rect x="227.54" y="1128.75" width="7.85" height="3.66" fill="#ed1e24"/>
<rect x="266.77" y="1128.75" width="7.85" height="3.66" fill="#ed1e24"/>
<rect x="329.54" y="1128.75" width="7.85" height="3.66" fill="#ed1e24"/>
<rect x="337.38" y="1128.75" width="7.85" height="3.66" fill="#ed1e24"/>
<rect x="400.15" y="1128.75" width="7.85" height="3.66" fill="#b3b5e0"/>
<rect x="109.85" y="1132.42" width="7.85" height="3.66" fill="#cbcbea"/>
<rect x="149.08" y="1132.42" width="7.85" height="3.66" fill="#ddddf2"/>
<rect x="156.92" y="1132.42" width="7.85" height="3.66" fill="#a3a6d9"/>
<rect x="172.62" y="1132.42" width="7.85" height="3.66" fill="#ed1e24"/>
<rect x="180.46" y="1132.42" width="7.85" height="3.66" fill="#ed1e24"/>
<rect x="188.31" y="1132.42" width="7.85" height="3.66" fill="#f4635f"/>
<rect x="219.69" y="1132.42" width="7.85" height="3.66" fill="#ed1e24"/>
<rect x="227.54" y="1132.42" width="7.85" height="3.66" fill="#fdd4ca"/>
<rect x="306" y="1132.42" width="7.85" height="3.66" fill="#fdd4ca"/>
<rect x="313.85" y="1132.42" width="7.85" height="3.66" fill="#ed1e24"/>
<rect x="337.38" y="1132.42" width="7.85" height="3.66" fill="#fdd4ca"/>
<rect x="345.23" y="1132.42" width="7.85" height="3.66" fill="#fdd4ca"/>
<rect x="353.08" y="1132.42" width="7.85" height="3.66" fill="#ed1e24"/>
<rect x="376.62" y="1132.42" width="7.85" height="3.66" fill="#ffffff"/>
<rect x="384.46" y="1132.42" width="7.85" height="3.66" fill="#ffffff"/>
<rect x="392.31" y="1132.42" width="7.85" height="3.66" fill="#faa097"/>
<rect x="400.15" y="1132.42" width="7.85" height="3.66" fill="#b3b5e0"/>
<rect x="117.69" y="1136.08" width="7.85" height="3.66" fill="#ffffff"/>
<rect x="125.54" y="1136.08" width="7.85" height="3.66" fill="#f13f40"/>
<rect x="149.08" y="1136.08" width="7.85" height="3.66" fill="#fdd4ca"/>
<rect x="156.92" y="1136.08" width="7.85" height="3.66" fill="#ed1e24"/>
<rect x="180.46" y="1136.08" width="7.85" height="3.66" fill="#f13f40"/>
<rect x="196.15" y="1136.08" width="7.85" height="3.66" fill="#ffffff"/>
<rect x="204" y="1136.08" width="7.85" height="3.66" fill="#ed1e24"/>
<rect x="251.08" y="1136.08" width="7.85" height="3.66" fill="#ed1e24"/>
<rect x="282.46" y="1136.08" width="7.85" height="3.66" fill="#f88b83"/>
<rect x="290.31" y="1136.08" width="7.85" height="3.66" fill="#bfc0e5"/>
<rect x="306" y="1136.08" width="7.85" height="3.66" fill="#fdd4ca"/>
<rect x="329.54" y="1136.08" width="7.85" height="3.66" fill="#ed1e24"/>
<rect x="345.23" y="1136.08" width="7.85" height="3.66" fill="#f4635f"/>
<rect x="353.08" y="1136.08" width="7.85" height="3.66" fill="#ed1e24"/>
<rect x="360.92" y="1136.08" width="7.85" height="3.66" fill="#bfc0e5"/>
<rect x="368.77" y="1136.08" width="7.85" height="3.66" fill="#ed1e24"/>
<rect x="376.62" y="1136.08" width="7.85" height="3.66" fill="#faa097"/>
<rect x="392.31" y="1136.08" width="7.85" height="3.66" fill="#ed1e24"/>
<rect x="400.15" y="1136.08" width="7.85" height="3.66" fill="#b3b5e0"/>
<rect x="141.23" y="1139.74" width="7.85" height="3.66" fill="#ed1e24"/>
<rect x="188.31" y="1139.74" width="7.85" height="3.66" fill="#ed1e24"/>
<rect x="219.69" y="1139.74" width="7.85" height="3.66" fill="#ed1e24"/>
<rect x="227.54" y="1139.74" width="7.85" height="3.66" fill="#ed1e24"/>
<rect x="266.77" y="1139.74" width="7.85" height="3.66" fill="#ed1e24"/>
<rect x="313.85" y="1139.74" width="7.85" height="3.66" fill="#ed1e24"/>
<rect x="337.38" y="1139.74" width="7.85" height="3.66" fill="#ed1e24"/>
<rect x="400.15" y="1139.74" width="7.85" height="3.66" fill="#b3b5e0"/>
<rect x="141.23" y="1143.4" width="7.85" height="3.66" fill="#ed1e24"/>
<rect x="188.31" y="1143.4" width="7.85" height="3.66" fill="#ed1e24"/>
<rect x="219.69" y="1143.4" width="7.85" height="3.66" fill="#ed1e24"/>
<rect x="227.54" y="1143.4" width="7.85" height="3.66" fill="#ed1e24"/>
<rect x="266.77" y="1143.4" width="7.85" height="3.66" fill="#ed1e24"/>
<rect x="313.85" y="1143.4" width="7.85" height="3.66" fill="#ed1e24"/>
<rect x="337.38" y="1143.4" width="7.85" height="3.66" fill="#ed1e24"/>
<rect x="400.15" y="1143.4" width="7.85" height="3.66" fill="#bfc0e5"/>
<rect x="102" y="1147.06" width="7.85" height="3.66" fill="#f88b83"/>
<rect x="109.85" y="1147.06" width="7.85" height="3.66" fill="#f88b83"/>
<rect x="125.54" y="1147.06" width="7.85" height="3.66" fill="#bfc0e5"/>
<rect x="133.38" y="1147.06" width="7.85" height="3.66" fill="#fee9e1"/>
<rect x="156.92" y="1147.06" width="7.85" height="3.66" fill="#ed1e24"/>
<rect x="164.77" y="1147.06" width="7.85" height="3.66" fill="#faa097"/>
<rect x="180.46" y="1147.06" width="7.85" height="3.66" fill="#ffffff"/>
<rect x="243.23" y="1147.06" width="7.85" height="3.66" fill="#a3a6d9"/>
<rect x="258.92" y="1147.06" width="7.85" height="3.66" fill="#ffffff"/>
<rect x="282.46" y="1147.06" width="7.85" height="3.66" fill="#ed1e24"/>
<rect x="298.15" y="1147.06" width="7.85" height="3.66" fill="#ddddf2"/>
<rect x="306" y="1147.06" width="7.85" height="3.66" fill="#8a90ce"/>
<rect x="329.54" y="1147.06" width="7.85" height="3.66" fill="#ed1e24"/>
<rect x="353.08" y="1147.06" width="7.85" height="3.66" fill="#bfc0e5"/>
<rect x="360.92" y="1147.06" width="7.85" height="3.66" fill="#ed1e24"/>
<rect x="368.77" y="1147.06" width="7.85" height="3.66" fill="#faa097"/>
<rect x="392.31" y="1147.06" width="7.85" height="3.66" fill="#bfc0e5"/>
<rect x="400.15" y="1147.06" width="7.85" height="3.66" fill="#bfc0e5"/>
<rect x="102" y="1150.73" width="7.85" height="3.66" fill="#8a90ce"/>
<rect x="117.69" y="1150.73" width="7.85" height="3.66" fill="#faa097"/>
<rect x="141.23" y="1150.73" width="7.85" height="3.66" fill="#ed1e24"/>
<rect x="188.31" y="1150.73" width="7.85" height="3.66" fill="#ed1e24"/>
<rect x="196.15" y="1150.73" width="7.85" height="3.66" fill="#faa097"/>
<rect x="204" y="1150.73" width="7.85" height="3.66" fill="#faa097"/>
<rect x="219.69" y="1150.73" width="7.85" height="3.66" fill="#ed1e24"/>
<rect x="227.54" y="1150.73" width="7.85" height="3.66" fill="#ed1e24"/>
<rect x="251.08" y="1150.73" width="7.85" height="3.66" fill="#ed1e24"/>
<rect x="266.77" y="1150.73" width="7.85" height="3.66" fill="#ed1e24"/>
<rect x="313.85" y="1150.73" width="7.85" height="3.66" fill="#ed1e24"/>
<rect x="337.38" y="1150.73" width="7.85" height="3.66" fill="#ed1e24"/>
<rect x="345.23" y="1150.73" width="7.85" height="3.66" fill="#ed1e24"/>
<rect x="400.15" y="1150.73" width="7.85" height="3.66" fill="#bfc0e5"/>
<rect x="109.85" y="1154.39" width="7.85" height="3.66" fill="#ddddf2"/>
<rect x="117.69" y="1154.39" width="7.85" height="3.66" fill="#faa097"/>
<rect x="156.92" y="1154.39" width="7.85" height="3.66" fill="#ed1e24"/>
<rect x="164.77" y="1154.39" width="7.85" height="3.66" fill="#fdd4ca"/>
<rect x="180.46" y="1154.39" width="7.85" height="3.66" fill="#ddddf2"/>
<rect x="188.31" y="1154.39" width="7.85" height="3.66" fill="#faa097"/>
<rect x="211.85" y="1154.39" width="7.85" height="3.66" fill="#bfc0e5"/>
<rect x="219.69" y="1154.39" width="7.85" height="3.66" fill="#ed1e24"/>
<rect x="227.54" y="1154.39" width="7.85" height="3.66" fill="#ed1e24"/>
<rect x="258.92" y="1154.39" width="7.85" height="3.66" fill="#fdd4ca"/>
<rect x="282.46" y="1154.39" width="7.85" height="3.66" fill="#faa097"/>
<rect x="306" y="1154.39" width="7.85" height="3.66" fill="#ed1e24"/>
<rect x="313.85" y="1154.39" width="7.85" height="3.66" fill="#ed1e24"/>
<rect x="329.54" y="1154.39" width="7.85" height="3.66" fill="#ed1e24"/>
<rect x="337.38" y="1154.39" width="7.85" height="3.66" fill="#faa097"/>
<rect x="345.23" y="1154.39" width="7.85" height="3.66" fill="#bfc0e5"/>
<rect x="360.92" y="1154.39" width="7.85" height="3.66" fill="#bfc0e5"/>
<rect x="376.62" y="1154.39" width="7.85" height="3.66" fill="#ed1e24"/>
<rect x="384.46" y="1154.39" width="7.85" height="3.66" fill="#ffffff"/>
<rect x="392.31" y="1154.39" width="7.85" height="3.66" fill="#ed1e24"/>
<rect x="400.15" y="1154.39" width="7.85" height="3.66" fill="#fee1d9"/>
<rect x="102" y="1158.05" width="7.85" height="3.66" fill="#ed1e24"/>
<rect x="109.85" y="1158.05" width="7.85" height="3.66" fill="#f88b83"/>
<rect x="117.69" y="1158.05" width="7.85" height="3.66" fill="#ed1e24"/>
<rect x="125.54" y="1158.05" width="7.85" height="3.66" fill="#ed1e24"/>
<rect x="133.38" y="1158.05" width="7.85" height="3.66" fill="#fdd4ca"/>
<rect x="164.77" y="1158.05" width="7.85" height="3.66" fill="#faa097"/>
<rect x="172.62" y="1158.05" width="7.85" height="3.66" fill="#bfc0e5"/>
<rect x="180.46" y="1158.05" width="7.85" height="3.66" fill="#fdd4ca"/>
<rect x="196.15" y="1158.05" width="7.85" height="3.66" fill="#ed1e24"/>
<rect x="204" y="1158.05" width="7.85" height="3.66" fill="#ed1e24"/>
<rect x="211.85" y="1158.05" width="7.85" height="3.66" fill="#ed1e24"/>
<rect x="243.23" y="1158.05" width="7.85" height="3.66" fill="#a3a6d9"/>
<rect x="251.08" y="1158.05" width="7.85" height="3.66" fill="#ed1e24"/>
<rect x="258.92" y="1158.05" width="7.85" height="3.66" fill="#ed1e24"/>
<rect x="266.77" y="1158.05" width="7.85" height="3.66" fill="#fdd4ca"/>
<rect x="274.62" y="1158.05" width="7.85" height="3.66" fill="#bfc0e5"/>
<rect x="282.46" y="1158.05" width="7.85" height="3.66" fill="#faa097"/>
<rect x="306" y="1158.05" width="7.85" height="3.66" fill="#faa097"/>
<rect x="321.69" y="1158.05" width="7.85" height="3.66" fill="#ed1e24"/>
<rect x="329.54" y="1158.05" width="7.85" height="3.66" fill="#ed1e24"/>
<rect x="345.23" y="1158.05" width="7.85" height="3.66" fill="#faa097"/>
<rect x="353.08" y="1158.05" width="7.85" height="3.66" fill="#ed1e24"/>
<rect x="360.92" y="1158.05" width="7.85" height="3.66" fill="#fdd4ca"/>
<rect x="368.77" y="1158.05" width="7.85" height="3.66" fill="#ed1e24"/>
<rect x="376.62" y="1158.05" width="7.85" height="3.66" fill="#ed1e24"/>
<rect x="392.31" y="1158.05" width="7.85" height="3.66" fill="#ffffff"/>
<rect x="400.15" y="1158.05" width="7.85" height="3.66" fill="#fee1d9"/>
<rect x="117.69" y="1161.71" width="7.85" height="3.66" fill="#ed1e24"/>
<rect x="125.54" y="1161.71" width="7.85" height="3.66" fill="#ed1e24"/>
<rect x="133.38" y="1161.71" width="7.85" height="3.66" fill="#fdd4ca"/>
<rect x="141.23" y="1161.71" width="7.85" height="3.66" fill="#ed1e24"/>
<rect x="149.08" y="1161.71" width="7.85" height="3.66" fill="#ffffff"/>
<rect x="164.77" y="1161.71" width="7.85" height="3.66" fill="#ddddf2"/>
<rect x="172.62" y="1161.71" width="7.85" height="3.66" fill="#faa097"/>
<rect x="180.46" y="1161.71" width="7.85" height="3.66" fill="#ed1e24"/>
<rect x="188.31" y="1161.71" width="7.85" height="3.66" fill="#ed1e24"/>
<rect x="196.15" y="1161.71" width="7.85" height="3.66" fill="#ed1e24"/>
<rect x="211.85" y="1161.71" width="7.85" height="3.66" fill="#faa097"/>
<rect x="219.69" y="1161.71" width="7.85" height="3.66" fill="#ed1e24"/>
<rect x="227.54" y="1161.71" width="7.85" height="3.66" fill="#ed1e24"/>
<rect x="235.38" y="1161.71" width="7.85" height="3.66" fill="#ddddf2"/>
<rect x="251.08" y="1161.71" width="7.85" height="3.66" fill="#ed1e24"/>
<rect x="266.77" y="1161.71" width="7.85" height="3.66" fill="#faa097"/>
<rect x="290.31" y="1161.71" width="7.85" height="3.66" fill="#ffffff"/>
<rect x="306" y="1161.71" width="7.85" height="3.66" fill="#f67671"/>
<rect x="313.85" y="1161.71" width="7.85" height="3.66" fill="#ed1e24"/>
<rect x="321.69" y="1161.71" width="7.85" height="3.66" fill="#ed1e24"/>
<rect x="337.38" y="1161.71" width="7.85" height="3.66" fill="#ed1e24"/>
<rect x="345.23" y="1161.71" width="7.85" height="3.66" fill="#ed1e24"/>
<rect x="353.08" y="1161.71" width="7.85" height="3.66" fill="#ed1e24"/>
<rect x="360.92" y="1161.71" width="7.85" height="3.66" fill="#bfc0e5"/>
<rect x="368.77" y="1161.71" width="7.85" height="3.66" fill="#ed1e24"/>
<rect x="376.62" y="1161.71" width="7.85" height="3.66" fill="#bfc0e5"/>
<rect x="384.46" y="1161.71" width="7.85" height="3.66" fill="#ffffff"/>
<rect x="392.31" y="1161.71" width="7.85" height="3.66" fill="#bfc0e5"/>
<rect x="400.15" y="1161.71" width="7.85" height="3.66" fill="#fee1d9"/>
<rect x="102" y="1165.38" width="7.85" height="3.66" fill="#f2514f"/>
<rect x="109.85" y="1165.38" width="7.85" height="3.66" fill="#cbcbea"/>
<rect x="117.69" y="1165.38" width="7.85" height="3.66" fill="#ed1e24"/>
<rect x="125.54" y="1165.38" width="7.85" height="3.66" fill="#bfc0e5"/>
<rect x="149.08" y="1165.38" width="7.85" height="3.66" fill="#a3a6d9"/>
<rect x="156.92" y="1165.38" width="7.85" height="3.66" fill="#ed1e24"/>
<rect x="188.31" y="1165.38" width="7.85" height="3.66" fill="#ed1e24"/>
<rect x="196.15" y="1165.38" width="7.85" height="3.66" fill="#ed1e24"/>
<rect x="204" y="1165.38" width="7.85" height="3.66" fill="#fbb8ae"/>
<rect x="219.69" y="1165.38" width="7.85" height="3.66" fill="#ed1e24"/>
<rect x="227.54" y="1165.38" width="7.85" height="3.66" fill="#ed1e24"/>
<rect x="251.08" y="1165.38" width="7.85" height="3.66" fill="#ed1e24"/>
<rect x="258.92" y="1165.38" width="7.85" height="3.66" fill="#ed1e24"/>
<rect x="266.77" y="1165.38" width="7.85" height="3.66" fill="#ed1e24"/>
<rect x="274.62" y="1165.38" width="7.85" height="3.66" fill="#ed1e24"/>
<rect x="282.46" y="1165.38" width="7.85" height="3.66" fill="#f88b83"/>
<rect x="313.85" y="1165.38" width="7.85" height="3.66" fill="#ed1e24"/>
<rect x="321.69" y="1165.38" width="7.85" height="3.66" fill="#ed1e24"/>
<rect x="337.38" y="1165.38" width="7.85" height="3.66" fill="#ed1e24"/>
<rect x="345.23" y="1165.38" width="7.85" height="3.66" fill="#ffffff"/>
<rect x="360.92" y="1165.38" width="7.85" height="3.66" fill="#fbb8ae"/>
<rect x="368.77" y="1165.38" width="7.85" height="3.66" fill="#f88b83"/>
<rect x="400.15" y="1165.38" width="7.85" height="3.66" fill="#fee1d9"/>
<rect x="102" y="1169.04" width="7.85" height="3.66" fill="#ed1e24"/>
<rect x="109.85" y="1169.04" width="7.85" height="3.66" fill="#ed1e24"/>
<rect x="117.69" y="1169.04" width="7.85" height="3.66" fill="#ed1e24"/>
<rect x="125.54" y="1169.04" width="7.85" height="3.66" fill="#ed1e24"/>
<rect x="133.38" y="1169.04" width="7.85" height="3.66" fill="#fdd4ca"/>
<rect x="141.23" y="1169.04" width="7.85" height="3.66" fill="#fbb8ae"/>
<rect x="149.08" y="1169.04" width="7.85" height="3.66" fill="#ddddf2"/>
<rect x="156.92" y="1169.04" width="7.85" height="3.66" fill="#ed1e24"/>
<rect x="164.77" y="1169.04" width="7.85" height="3.66" fill="#faa097"/>
<rect x="188.31" y="1169.04" width="7.85" height="3.66" fill="#ed1e24"/>
<rect x="196.15" y="1169.04" width="7.85" height="3.66" fill="#ffffff"/>
<rect x="204" y="1169.04" width="7.85" height="3.66" fill="#8a90ce"/>
<rect x="211.85" y="1169.04" width="7.85" height="3.66" fill="#faa097"/>
<rect x="219.69" y="1169.04" width="7.85" height="3.66" fill="#ed1e24"/>
<rect x="227.54" y="1169.04" width="7.85" height="3.66" fill="#ed1e24"/>
<rect x="235.38" y="1169.04" width="7.85" height="3.66" fill="#ffffff"/>
<rect x="243.23" y="1169.04" width="7.85" height="3.66" fill="#bfc0e5"/>
<rect x="258.92" y="1169.04" width="7.85" height="3.66" fill="#ed1e24"/>
<rect x="266.77" y="1169.04" width="7.85" height="3.66" fill="#ed1e24"/>
<rect x="306" y="1169.04" width="7.85" height="3.66" fill="#ed1e24"/>
<rect x="313.85" y="1169.04" width="7.85" height="3.66" fill="#fbb8ae"/>
<rect x="321.69" y="1169.04" width="7.85" height="3.66" fill="#ed1e24"/>
<rect x="329.54" y="1169.04" width="7.85" height="3.66" fill="#ed1e24"/>
<rect x="337.38" y="1169.04" width="7.85" height="3.66" fill="#ed1e24"/>
<rect x="345.23" y="1169.04" width="7.85" height="3.66" fill="#ddddf2"/>
<rect x="360.92" y="1169.04" width="7.85" height="3.66" fill="#ed1e24"/>
<rect x="368.77" y="1169.04" width="7.85" height="3.66" fill="#ed1e24"/>
<rect x="376.62" y="1169.04" width="7.85" height="3.66" fill="#ed1e24"/>
<rect x="384.46" y="1169.04" width="7.85" height="3.66" fill="#faa097"/>
<rect x="392.31" y="1169.04" width="7.85" height="3.66" fill="#ed1e24"/>
<rect x="400.15" y="1169.04" width="7.85" height="3.66" fill="#fee1d9"/>
<rect x="117.69" y="1172.7" width="7.85" height="3.66" fill="#ed1e24"/>
<rect x="125.54" y="1172.7" width="7.85" height="3.66" fill="#ed1e24"/>
<rect x="133.38" y="1172.7" width="7.85" height="3.66" fill="#ddddf2"/>
<rect x="141.23" y="1172.7" width="7.85" height="3.66" fill="#ffffff"/>
<rect x="149.08" y="1172.7" width="7.85" height="3.66" fill="#ffffff"/>
<rect x="156.92" y="1172.7" width="7.85" height="3.66" fill="#ed1e24"/>
<rect x="172.62" y="1172.7" width="7.85" height="3.66" fill="#ed1e24"/>
<rect x="180.46" y="1172.7" width="7.85" height="3.66" fill="#faa097"/>
<rect x="188.31" y="1172.7" width="7.85" height="3.66" fill="#ed1e24"/>
<rect x="196.15" y="1172.7" width="7.85" height="3.66" fill="#ffffff"/>
<rect x="204" y="1172.7" width="7.85" height="3.66" fill="#ed1e24"/>
<rect x="211.85" y="1172.7" width="7.85" height="3.66" fill="#ed1e24"/>
<rect x="219.69" y="1172.7" width="7.85" height="3.66" fill="#ed1e24"/>
<rect x="227.54" y="1172.7" width="7.85" height="3.66" fill="#ed1e24"/>
<rect x="243.23" y="1172.7" width="7.85" height="3.66" fill="#bfc0e5"/>
<rect x="282.46" y="1172.7" width="7.85" height="3.66" fill="#fbb8ae"/>
<rect x="298.15" y="1172.7" width="7.85" height="3.66" fill="#ed1e24"/>
<rect x="306" y="1172.7" width="7.85" height="3.66" fill="#ed1e24"/>
<rect x="313.85" y="1172.7" width="7.85" height="3.66" fill="#ed1e24"/>
<rect x="321.69" y="1172.7" width="7.85" height="3.66" fill="#ed1e24"/>
<rect x="329.54" y="1172.7" width="7.85" height="3.66" fill="#ed1e24"/>
<rect x="337.38" y="1172.7" width="7.85" height="3.66" fill="#ed1e24"/>
<rect x="345.23" y="1172.7" width="7.85" height="3.66" fill="#ddddf2"/>
<rect x="353.08" y="1172.7" width="7.85" height="3.66" fill="#ed1e24"/>
<rect x="360.92" y="1172.7" width="7.85" height="3.66" fill="#bfc0e5"/>
<rect x="368.77" y="1172.7" width="7.85" height="3.66" fill="#ed1e24"/>
<rect x="376.62" y="1172.7" width="7.85" height="3.66" fill="#ed1e24"/>
<rect x="384.46" y="1172.7" width="7.85" height="3.66" fill="#ffffff"/>
<rect x="392.31" y="1172.7" width="7.85" height="3.66" fill="#ed1e24"/>
<rect x="400.15" y="1172.7" width="7.85" height="3.66" fill="#fee1d9"/>
<rect x="102" y="1176.36" width="7.85" height="3.66" fill="#fee9e1"/>
<rect x="109.85" y="1176.36" width="7.85" height="3.66" fill="#ed1e24"/>
<rect x="117.69" y="1176.36" width="7.85" height="3.66" fill="#ed1e24"/>
<rect x="133.38" y="1176.36" width="7.85" height="3.66" fill="#ffffff"/>
<rect x="149.08" y="1176.36" width="7.85" height="3.66" fill="#bfc0e5"/>
<rect x="156.92" y="1176.36" width="7.85" height="3.66" fill="#ed1e24"/>
<rect x="164.77" y="1176.36" width="7.85" height="3.66" fill="#bfc0e5"/>
<rect x="172.62" y="1176.36" width="7.85" height="3.66" fill="#bfc0e5"/>
<rect x="180.46" y="1176.36" width="7.85" height="3.66" fill="#ed1e24"/>
<rect x="188.31" y="1176.36" width="7.85" height="3.66" fill="#ed1e24"/>
<rect x="196.15" y="1176.36" width="7.85" height="3.66" fill="#ed1e24"/>
<rect x="204" y="1176.36" width="7.85" height="3.66" fill="#ed1e24"/>
<rect x="211.85" y="1176.36" width="7.85" height="3.66" fill="#bfc0e5"/>
<rect x="219.69" y="1176.36" width="7.85" height="3.66" fill="#ed1e24"/>
<rect x="227.54" y="1176.36" width="7.85" height="3.66" fill="#ed1e24"/>
<rect x="243.23" y="1176.36" width="7.85" height="3.66" fill="#bfc0e5"/>
<rect x="251.08" y="1176.36" width="7.85" height="3.66" fill="#faa097"/>
<rect x="258.92" y="1176.36" width="7.85" height="3.66" fill="#fdd4ca"/>
<rect x="266.77" y="1176.36" width="7.85" height="3.66" fill="#ed1e24"/>
<rect x="274.62" y="1176.36" width="7.85" height="3.66" fill="#ed1e24"/>
<rect x="282.46" y="1176.36" width="7.85" height="3.66" fill="#ffffff"/>
<rect x="290.31" y="1176.36" width="7.85" height="3.66" fill="#fbb8ae"/>
<rect x="298.15" y="1176.36" width="7.85" height="3.66" fill="#ed1e24"/>
<rect x="306" y="1176.36" width="7.85" height="3.66" fill="#ed1e24"/>
<rect x="313.85" y="1176.36" width="7.85" height="3.66" fill="#ed1e24"/>
<rect x="321.69" y="1176.36" width="7.85" height="3.66" fill="#ed1e24"/>
<rect x="329.54" y="1176.36" width="7.85" height="3.66" fill="#ed1e24"/>
<rect x="337.38" y="1176.36" width="7.85" height="3.66" fill="#ed1e24"/>
<rect x="345.23" y="1176.36" width="7.85" height="3.66" fill="#ddddf2"/>
<rect x="353.08" y="1176.36" width="7.85" height="3.66" fill="#ed1e24"/>
<rect x="360.92" y="1176.36" width="7.85" height="3.66" fill="#ed1e24"/>
<rect x="368.77" y="1176.36" width="7.85" height="3.66" fill="#fdd4ca"/>
<rect x="384.46" y="1176.36" width="7.85" height="3.66" fill="#ffffff"/>
<rect x="392.31" y="1176.36" width="7.85" height="3.66" fill="#ed1e24"/>
<rect x="400.15" y="1176.36" width="7.85" height="3.66" fill="#fee1d9"/>
<rect x="102" y="1180.03" width="7.85" height="3.66" fill="#bfc0e5"/>
<rect x="117.69" y="1180.03" width="7.85" height="3.66" fill="#ed1e24"/>
<rect x="125.54" y="1180.03" width="7.85" height="3.66" fill="#ed1e24"/>
<rect x="133.38" y="1180.03" width="7.85" height="3.66" fill="#faa097"/>
<rect x="141.23" y="1180.03" width="7.85" height="3.66" fill="#bfc0e5"/>
<rect x="149.08" y="1180.03" width="7.85" height="3.66" fill="#fdd4ca"/>
<rect x="156.92" y="1180.03" width="7.85" height="3.66" fill="#ed1e24"/>
<rect x="164.77" y="1180.03" width="7.85" height="3.66" fill="#ed1e24"/>
<rect x="172.62" y="1180.03" width="7.85" height="3.66" fill="#ed1e24"/>
<rect x="188.31" y="1180.03" width="7.85" height="3.66" fill="#faa097"/>
<rect x="196.15" y="1180.03" width="7.85" height="3.66" fill="#fbb8ae"/>
<rect x="204" y="1180.03" width="7.85" height="3.66" fill="#ed1e24"/>
<rect x="211.85" y="1180.03" width="7.85" height="3.66" fill="#ed1e24"/>
<rect x="219.69" y="1180.03" width="7.85" height="3.66" fill="#f88b83"/>
<rect x="227.54" y="1180.03" width="7.85" height="3.66" fill="#ffffff"/>
<rect x="235.38" y="1180.03" width="7.85" height="3.66" fill="#faa097"/>
<rect x="243.23" y="1180.03" width="7.85" height="3.66" fill="#ed1e24"/>
<rect x="251.08" y="1180.03" width="7.85" height="3.66" fill="#ed1e24"/>
<rect x="258.92" y="1180.03" width="7.85" height="3.66" fill="#ed1e24"/>
<rect x="266.77" y="1180.03" width="7.85" height="3.66" fill="#f88b83"/>
<rect x="282.46" y="1180.03" width="7.85" height="3.66" fill="#bfc0e5"/>
<rect x="298.15" y="1180.03" width="7.85" height="3.66" fill="#ed1e24"/>
<rect x="306" y="1180.03" width="7.85" height="3.66" fill="#fbb8ae"/>
<rect x="313.85" y="1180.03" width="7.85" height="3.66" fill="#faa097"/>
<rect x="321.69" y="1180.03" width="7.85" height="3.66" fill="#ed1e24"/>
<rect x="329.54" y="1180.03" width="7.85" height="3.66" fill="#ed1e24"/>
<rect x="337.38" y="1180.03" width="7.85" height="3.66" fill="#faa097"/>
<rect x="345.23" y="1180.03" width="7.85" height="3.66" fill="#ffffff"/>
<rect x="353.08" y="1180.03" width="7.85" height="3.66" fill="#ed1e24"/>
<rect x="360.92" y="1180.03" width="7.85" height="3.66" fill="#ed1e24"/>
<rect x="368.77" y="1180.03" width="7.85" height="3.66" fill="#ed1e24"/>
<rect x="376.62" y="1180.03" width="7.85" height="3.66" fill="#ed1e24"/>
<rect x="384.46" y="1180.03" width="7.85" height="3.66" fill="#ed1e24"/>
<rect x="392.31" y="1180.03" width="7.85" height="3.66" fill="#faa097"/>
<rect x="400.15" y="1180.03" width="7.85" height="3.66" fill="#f99c93"/>
<rect x="102" y="1183.69" width="7.85" height="3.66" fill="#faa097"/>
<rect x="109.85" y="1183.69" width="7.85" height="3.66" fill="#ed1e24"/>
<rect x="117.69" y="1183.69" width="7.85" height="3.66" fill="#ed1e24"/>
<rect x="125.54" y="1183.69" width="7.85" height="3.66" fill="#ed1e24"/>
<rect x="133.38" y="1183.69" width="7.85" height="3.66" fill="#fdd4ca"/>
<rect x="141.23" y="1183.69" width="7.85" height="3.66" fill="#ed1e24"/>
<rect x="149.08" y="1183.69" width="7.85" height="3.66" fill="#ed1e24"/>
<rect x="156.92" y="1183.69" width="7.85" height="3.66" fill="#faa097"/>
<rect x="164.77" y="1183.69" width="7.85" height="3.66" fill="#ed1e24"/>
<rect x="180.46" y="1183.69" width="7.85" height="3.66" fill="#faa097"/>
<rect x="188.31" y="1183.69" width="7.85" height="3.66" fill="#ed1e24"/>
<rect x="196.15" y="1183.69" width="7.85" height="3.66" fill="#ed1e24"/>
<rect x="204" y="1183.69" width="7.85" height="3.66" fill="#ed1e24"/>
<rect x="211.85" y="1183.69" width="7.85" height="3.66" fill="#ed1e24"/>
<rect x="219.69" y="1183.69" width="7.85" height="3.66" fill="#ed1e24"/>
<rect x="227.54" y="1183.69" width="7.85" height="3.66" fill="#ed1e24"/>
<rect x="235.38" y="1183.69" width="7.85" height="3.66" fill="#f67671"/>
<rect x="251.08" y="1183.69" width="7.85" height="3.66" fill="#fdd4ca"/>
<rect x="258.92" y="1183.69" width="7.85" height="3.66" fill="#faa097"/>
<rect x="266.77" y="1183.69" width="7.85" height="3.66" fill="#ed1e24"/>
<rect x="282.46" y="1183.69" width="7.85" height="3.66" fill="#fdd4ca"/>
<rect x="306" y="1183.69" width="7.85" height="3.66" fill="#ed1e24"/>
<rect x="313.85" y="1183.69" width="7.85" height="3.66" fill="#ed1e24"/>
<rect x="321.69" y="1183.69" width="7.85" height="3.66" fill="#ed1e24"/>
<rect x="329.54" y="1183.69" width="7.85" height="3.66" fill="#faa097"/>
<rect x="337.38" y="1183.69" width="7.85" height="3.66" fill="#ed1e24"/>
<rect x="353.08" y="1183.69" width="7.85" height="3.66" fill="#ed1e24"/>
<rect x="360.92" y="1183.69" width="7.85" height="3.66" fill="#ed1e24"/>
<rect x="368.77" y="1183.69" width="7.85" height="3.66" fill="#ed1e24"/>
<rect x="376.62" y="1183.69" width="7.85" height="3.66" fill="#ed1e24"/>
<rect x="384.46" y="1183.69" width="7.85" height="3.66" fill="#ed1e24"/>
<rect x="392.31" y="1183.69" width="7.85" height="3.66" fill="#ed1e24"/>
<rect x="400.15" y="1183.69" width="7.85" height="3.66" fill="#f99c93"/>
<rect x="102" y="1187.35" width="7.85" height="3.66" fill="#ed1e24"/>
<rect x="109.85" y="1187.35" width="7.85" height="3.66" fill="#ed1e24"/>
<rect x="117.69" y="1187.35" width="7.85" height="3.66" fill="#ed1e24"/>
<rect x="125.54" y="1187.35" width="7.85" height="3.66" fill="#ed1e24"/>
<rect x="133.38" y="1187.35" width="7.85" height="3.66" fill="#ed1e24"/>
<rect x="141.23" y="1187.35" width="7.85" height="3.66" fill="#ed1e24"/>
<rect x="149.08" y="1187.35" width="7.85" height="3.66" fill="#faa097"/>
<rect x="156.92" y="1187.35" width="7.85" height="3.66" fill="#ed1e24"/>
<rect x="164.77" y="1187.35" width="7.85" height="3.66" fill="#ed1e24"/>
<rect x="180.46" y="1187.35" width="7.85" height="3.66" fill="#ed1e24"/>
<rect x="188.31" y="1187.35" width="7.85" height="3.66" fill="#ed1e24"/>
<rect x="196.15" y="1187.35" width="7.85" height="3.66" fill="#bfc0e5"/>
<rect x="204" y="1187.35" width="7.85" height="3.66" fill="#ddddf2"/>
<rect x="211.85" y="1187.35" width="7.85" height="3.66" fill="#ed1e24"/>
<rect x="219.69" y="1187.35" width="7.85" height="3.66" fill="#ed1e24"/>
<rect x="227.54" y="1187.35" width="7.85" height="3.66" fill="#ed1e24"/>
<rect x="235.38" y="1187.35" width="7.85" height="3.66" fill="#f67671"/>
<rect x="243.23" y="1187.35" width="7.85" height="3.66" fill="#ffffff"/>
<rect x="251.08" y="1187.35" width="7.85" height="3.66" fill="#ed1e24"/>
<rect x="258.92" y="1187.35" width="7.85" height="3.66" fill="#ed1e24"/>
<rect x="266.77" y="1187.35" width="7.85" height="3.66" fill="#ed1e24"/>
<rect x="274.62" y="1187.35" width="7.85" height="3.66" fill="#ed1e24"/>
<rect x="282.46" y="1187.35" width="7.85" height="3.66" fill="#faa097"/>
<rect x="290.31" y="1187.35" width="7.85" height="3.66" fill="#bfc0e5"/>
<rect x="298.15" y="1187.35" width="7.85" height="3.66" fill="#a3a6d9"/>
<rect x="306" y="1187.35" width="7.85" height="3.66" fill="#ed1e24"/>
<rect x="313.85" y="1187.35" width="7.85" height="3.66" fill="#ed1e24"/>
<rect x="321.69" y="1187.35" width="7.85" height="3.66" fill="#ed1e24"/>
<rect x="329.54" y="1187.35" width="7.85" height="3.66" fill="#ed1e24"/>
<rect x="337.38" y="1187.35" width="7.85" height="3.66" fill="#ed1e24"/>
<rect x="345.23" y="1187.35" width="7.85" height="3.66" fill="#bfc0e5"/>
<rect x="353.08" y="1187.35" width="7.85" height="3.66" fill="#ed1e24"/>
<rect x="360.92" y="1187.35" width="7.85" height="3.66" fill="#ed1e24"/>
<rect x="368.77" y="1187.35" width="7.85" height="3.66" fill="#ed1e24"/>
<rect x="376.62" y="1187.35" width="7.85" height="3.66" fill="#ed1e24"/>
<rect x="384.46" y="1187.35" width="7.85" height="3.66" fill="#ed1e24"/>
<rect x="392.31" y="1187.35" width="7.85" height="3.66" fill="#ed1e24"/>
<rect x="400.15" y="1187.35" width="7.85" height="3.66" fill="#f99c93"/>
<rect x="102" y="1191.01" width="7.85" height="3.66" fill="#faa097"/>
<rect x="109.85" y="1191.01" width="7.85" height="3.66" fill="#b3b5e0"/>
<rect x="117.69" y="1191.01" width="7.85" height="3.66" fill="#ed1e24"/>
<rect x="125.54" y="1191.01" width="7.85" height="3.66" fill="#ed1e24"/>
<rect x="133.38" y="1191.01" width="7.85" height="3.66" fill="#fdd4ca"/>
<rect x="141.23" y="1191.01" width="7.85" height="3.66" fill="#ed1e24"/>
<rect x="149.08" y="1191.01" width="7.85" height="3.66" fill="#fdd4ca"/>
<rect x="156.92" y="1191.01" width="7.85" height="3.66" fill="#ed1e24"/>
<rect x="164.77" y="1191.01" width="7.85" height="3.66" fill="#ed1e24"/>
<rect x="172.62" y="1191.01" width="7.85" height="3.66" fill="#ddddf2"/>
<rect x="180.46" y="1191.01" width="7.85" height="3.66" fill="#faa097"/>
<rect x="188.31" y="1191.01" width="7.85" height="3.66" fill="#ed1e24"/>
<rect x="196.15" y="1191.01" width="7.85" height="3.66" fill="#ed1e24"/>
<rect x="204" y="1191.01" width="7.85" height="3.66" fill="#ed1e24"/>
<rect x="211.85" y="1191.01" width="7.85" height="3.66" fill="#bfc0e5"/>
<rect x="219.69" y="1191.01" width="7.85" height="3.66" fill="#ed1e24"/>
<rect x="227.54" y="1191.01" width="7.85" height="3.66" fill="#ed1e24"/>
<rect x="235.38" y="1191.01" width="7.85" height="3.66" fill="#ed1e24"/>
<rect x="251.08" y="1191.01" width="7.85" height="3.66" fill="#ed1e24"/>
<rect x="258.92" y="1191.01" width="7.85" height="3.66" fill="#f88b83"/>
<rect x="266.77" y="1191.01" width="7.85" height="3.66" fill="#ed1e24"/>
<rect x="274.62" y="1191.01" width="7.85" height="3.66" fill="#a3a6d9"/>
<rect x="282.46" y="1191.01" width="7.85" height="3.66" fill="#ffffff"/>
<rect x="298.15" y="1191.01" width="7.85" height="3.66" fill="#ed1e24"/>
<rect x="306" y="1191.01" width="7.85" height="3.66" fill="#fdd4ca"/>
<rect x="313.85" y="1191.01" width="7.85" height="3.66" fill="#ed1e24"/>
<rect x="321.69" y="1191.01" width="7.85" height="3.66" fill="#ed1e24"/>
<rect x="329.54" y="1191.01" width="7.85" height="3.66" fill="#ed1e24"/>
<rect x="337.38" y="1191.01" width="7.85" height="3.66" fill="#ed1e24"/>
<rect x="345.23" y="1191.01" width="7.85" height="3.66" fill="#ddddf2"/>
<rect x="353.08" y="1191.01" width="7.85" height="3.66" fill="#ed1e24"/>
<rect x="360.92" y="1191.01" width="7.85" height="3.66" fill="#ed1e24"/>
<rect x="368.77" y="1191.01" width="7.85" height="3.66" fill="#ed1e24"/>
<rect x="376.62" y="1191.01" width="7.85" height="3.66" fill="#ed1e24"/>
<rect x="384.46" y="1191.01" width="7.85" height="3.66" fill="#faa097"/>
<rect x="392.31" y="1191.01" width="7.85" height="3.66" fill="#ed1e24"/>
<rect x="400.15" y="1191.01" width="7.85" height="3.66" fill="#f99c93"/>
<rect x="102" y="1194.68" width="7.85" height="3.66" fill="#ed1e24"/>
<rect x="109.85" y="1194.68" width="7.85" height="3.66" fill="#ed1e24"/>
<rect x="117.69" y="1194.68" width="7.85" height="3.66" fill="#ed1e24"/>
<rect x="125.54" y="1194.68" width="7.85" height="3.66" fill="#ed1e24"/>
<rect x="133.38" y="1194.68" width="7.85" height="3.66" fill="#faa097"/>
<rect x="141.23" y="1194.68" width="7.85" height="3.66" fill="#ed1e24"/>
<rect x="149.08" y="1194.68" width="7.85" height="3.66" fill="#ed1e24"/>
<rect x="156.92" y="1194.68" width="7.85" height="3.66" fill="#ed1e24"/>
<rect x="164.77" y="1194.68" width="7.85" height="3.66" fill="#ed1e24"/>
<rect x="180.46" y="1194.68" width="7.85" height="3.66" fill="#faa097"/>
<rect x="188.31" y="1194.68" width="7.85" height="3.66" fill="#ed1e24"/>
<rect x="196.15" y="1194.68" width="7.85" height="3.66" fill="#ed1e24"/>
<rect x="204" y="1194.68" width="7.85" height="3.66" fill="#ed1e24"/>
<rect x="211.85" y="1194.68" width="7.85" height="3.66" fill="#ed1e24"/>
<rect x="219.69" y="1194.68" width="7.85" height="3.66" fill="#ed1e24"/>
<rect x="227.54" y="1194.68" width="7.85" height="3.66" fill="#ed1e24"/>
<rect x="235.38" y="1194.68" width="7.85" height="3.66" fill="#ed1e24"/>
<rect x="251.08" y="1194.68" width="7.85" height="3.66" fill="#ed1e24"/>
<rect x="258.92" y="1194.68" width="7.85" height="3.66" fill="#ed1e24"/>
<rect x="266.77" y="1194.68" width="7.85" height="3.66" fill="#ed1e24"/>
<rect x="274.62" y="1194.68" width="7.85" height="3.66" fill="#8a90ce"/>
<rect x="282.46" y="1194.68" width="7.85" height="3.66" fill="#ddddf2"/>
<rect x="298.15" y="1194.68" width="7.85" height="3.66" fill="#ed1e24"/>
<rect x="306" y="1194.68" width="7.85" height="3.66" fill="#ed1e24"/>
<rect x="313.85" y="1194.68" width="7.85" height="3.66" fill="#ed1e24"/>
<rect x="321.69" y="1194.68" width="7.85" height="3.66" fill="#ed1e24"/>
<rect x="329.54" y="1194.68" width="7.85" height="3.66" fill="#ed1e24"/>
<rect x="337.38" y="1194.68" width="7.85" height="3.66" fill="#ed1e24"/>
<rect x="345.23" y="1194.68" width="7.85" height="3.66" fill="#ffffff"/>
<rect x="353.08" y="1194.68" width="7.85" height="3.66" fill="#ed1e24"/>
<rect x="360.92" y="1194.68" width="7.85" height="3.66" fill="#ed1e24"/>
<rect x="368.77" y="1194.68" width="7.85" height="3.66" fill="#ed1e24"/>
<rect x="376.62" y="1194.68" width="7.85" height="3.66" fill="#ed1e24"/>
<rect x="384.46" y="1194.68" width="7.85" height="3.66" fill="#ed1e24"/>
<rect x="392.31" y="1194.68" width="7.85" height="3.66" fill="#ed1e24"/>
<rect x="400.15" y="1194.68" width="7.85" height="3.66" fill="#f99c93"/>
<rect x="102" y="1198.34" width="7.85" height="3.66" fill="#ed1e24"/>
<rect x="109.85" y="1198.34" width="7.85" height="3.66" fill="#ed1e24"/>
<rect x="117.69" y="1198.34" width="7.85" height="3.66" fill="#ed1e24"/>
<rect x="125.54" y="1198.34" width="7.85" height="3.66" fill="#ed1e24"/>
<rect x="133.38" y="1198.34" width="7.85" height="3.66" fill="#f88b83"/>
<rect x="141.23" y="1198.34" width="7.85" height="3.66" fill="#ed1e24"/>
<rect x="149.08" y="1198.34" width="7.85" height="3.66" fill="#ed1e24"/>
<rect x="156.92" y="1198.34" width="7.85" height="3.66" fill="#ed1e24"/>
<rect x="164.77" y="1198.34" width="7.85" height="3.66" fill="#ed1e24"/>
<rect x="172.62" y="1198.34" width="7.85" height="3.66" fill="#ed1e24"/>
<rect x="180.46" y="1198.34" width="7.85" height="3.66" fill="#ed1e24"/>
<rect x="188.31" y="1198.34" width="7.85" height="3.66" fill="#ed1e24"/>
<rect x="196.15" y="1198.34" width="7.85" height="3.66" fill="#ed1e24"/>
<rect x="204" y="1198.34" width="7.85" height="3.66" fill="#ed1e24"/>
<rect x="211.85" y="1198.34" width="7.85" height="3.66" fill="#ed1e24"/>
<rect x="219.69" y="1198.34" width="7.85" height="3.66" fill="#ed1e24"/>
<rect x="227.54" y="1198.34" width="7.85" height="3.66" fill="#ed1e24"/>
<rect x="235.38" y="1198.34" width="7.85" height="3.66" fill="#ed1e24"/>
<rect x="243.23" y="1198.34" width="7.85" height="3.66" fill="#ed1e24"/>
<rect x="251.08" y="1198.34" width="7.85" height="3.66" fill="#ed1e24"/>
<rect x="258.92" y="1198.34" width="7.85" height="3.66" fill="#ed1e24"/>
<rect x="266.77" y="1198.34" width="7.85" height="3.66" fill="#ed1e24"/>
<rect x="274.62" y="1198.34" width="7.85" height="3.66" fill="#ed1e24"/>
<rect x="282.46" y="1198.34" width="7.85" height="3.66" fill="#faa097"/>
<rect x="290.31" y="1198.34" width="7.85" height="3.66" fill="#ffffff"/>
<rect x="298.15" y="1198.34" width="7.85" height="3.66" fill="#faa097"/>
<rect x="306" y="1198.34" width="7.85" height="3.66" fill="#ed1e24"/>
<rect x="313.85" y="1198.34" width="7.85" height="3.66" fill="#ed1e24"/>
<rect x="321.69" y="1198.34" width="7.85" height="3.66" fill="#fdd4ca"/>
<rect x="329.54" y="1198.34" width="7.85" height="3.66" fill="#ed1e24"/>
<rect x="337.38" y="1198.34" width="7.85" height="3.66" fill="#ed1e24"/>
<rect x="345.23" y="1198.34" width="7.85" height="3.66" fill="#ed1e24"/>
<rect x="353.08" y="1198.34" width="7.85" height="3.66" fill="#ed1e24"/>
<rect x="360.92" y="1198.34" width="7.85" height="3.66" fill="#ed1e24"/>
<rect x="368.77" y="1198.34" width="7.85" height="3.66" fill="#ed1e24"/>
<rect x="376.62" y="1198.34" width="7.85" height="3.66" fill="#ed1e24"/>
<rect x="384.46" y="1198.34" width="7.85" height="3.66" fill="#ed1e24"/>
<rect x="392.31" y="1198.34" width="7.85" height="3.66" fill="#ed1e24"/>
<rect x="400.15" y="1198.34" width="7.85" height="3.66" fill="#f99c93"/>
</g>
<text class="sm" transform="translate(413.4 641.16) rotate(0.02) scale(0.1)" font-size="37">C20orf174</text>
<text class="sm" transform="translate(413.4 644.82) rotate(0.02) scale(0.1)" font-size="37">C9orf61</text>
<text class="sm" transform="translate(413.4 648.48) rotate(0.02) scale(0.1)" font-size="37">HAPLN3</text>
<text class="sm" transform="translate(413.4 652.14) rotate(0.02) scale(0.1)" font-size="37">CACNG3</text>
<text class="sm" transform="translate(413.4 655.81) rotate(0.02) scale(0.1)" font-size="37">LRRN4</text>
<text class="sm" transform="translate(413.4 659.47) rotate(0.02) scale(0.1)" font-size="37">MT1F</text>
<text class="sm" transform="translate(413.4 663.13) rotate(0.02) scale(0.1)" font-size="37">C6orf35</text>
<text class="sm" transform="translate(413.4 666.79) rotate(0.02) scale(0.1)" font-size="37">ADAT3A</text>
<text class="sm" transform="translate(413.4 670.45) rotate(0.02) scale(0.1)" font-size="37">TSPAN17</text>
<text class="sm" transform="translate(413.4 674.12) rotate(0.02) scale(0.1)" font-size="37">CLPB</text>
<text class="sm" transform="translate(413.4 677.78) rotate(0.02) scale(0.1)" font-size="37">ZDHHC12</text>
<text class="sm" transform="translate(413.4 681.44) rotate(0.02) scale(0.1)" font-size="37">LTMC7</text>
<text class="sm" transform="translate(413.4 685.1) rotate(0.02) scale(0.1)" font-size="37">TMEM55</text>
<text class="sm" transform="translate(413.4 688.77) rotate(0.02) scale(0.1)" font-size="37">ZNF777</text>
<text class="sm" transform="translate(413.4 692.43) rotate(0.02) scale(0.1)" font-size="37">STARD8</text>
<text class="sm" transform="translate(413.4 696.09) rotate(0.02) scale(0.1)" font-size="37">KAZALD1</text>
<text class="sm" transform="translate(413.4 699.75) rotate(0.02) scale(0.1)" font-size="37">FKBP9</text>
<text class="sm" transform="translate(413.4 703.42) rotate(0.02) scale(0.1)" font-size="37">TMEM213</text>
<text class="sm" transform="translate(413.4 707.08) rotate(0.02) scale(0.1)" font-size="37">C9orf16</text>
<text class="sm" transform="translate(413.4 710.74) rotate(0.02) scale(0.1)" font-size="37">ACOX3</text>
<text class="sm" transform="translate(413.4 714.4) rotate(0.02) scale(0.1)" font-size="37">C7orf13</text>
<text class="sm" transform="translate(413.4 718.06) rotate(0.02) scale(0.1)" font-size="37">KCTD14</text>
<text class="sm" transform="translate(413.4 721.73) rotate(0.02) scale(0.1)" font-size="37">VAMP5</text>
<text class="sm" transform="translate(413.4 725.39) rotate(0.02) scale(0.1)" font-size="37">NKIRAS2</text>
<text class="sm" transform="translate(413.4 729.05) rotate(0.02) scale(0.1)" font-size="37">C6orf129</text>
<text class="sm" transform="translate(413.4 732.71) rotate(0.02) scale(0.1)" font-size="37">STAG3</text>
<text class="sm" transform="translate(413.4 736.38) rotate(0.02) scale(0.1)" font-size="37">NEK3</text>
<text class="sm" transform="translate(413.4 740.04) rotate(0.02) scale(0.1)" font-size="37">TMEM74</text>
<text class="sm" transform="translate(413.4 743.7) rotate(0.02) scale(0.1)" font-size="37">SOX11</text>
<text class="sm" transform="translate(413.4 747.36) rotate(0.02) scale(0.1)" font-size="37">PCDH8</text>
<text class="sm" transform="translate(413.4 751.03) rotate(0.02) scale(0.1)" font-size="37">GRID2IP</text>
<text class="sm" transform="translate(413.4 754.69) rotate(0.02) scale(0.1)" font-size="37">ADRA2C</text>
<text class="sm" transform="translate(413.4 758.35) rotate(0.02) scale(0.1)" font-size="37">RASL11B</text>
<text class="sm" transform="translate(413.4 762.01) rotate(0.02) scale(0.1)" font-size="37">FGF18</text>
<text class="sm" transform="translate(413.4 765.68) rotate(0.02) scale(0.1)" font-size="37">ELFN1</text>
<text class="sm" transform="translate(413.4 769.34) rotate(0.02) scale(0.1)" font-size="37">CRTAC1</text>
<text class="sm" transform="translate(413.4 773) rotate(0.02) scale(0.1)" font-size="37">WNT7A</text>
<text class="sm" transform="translate(413.4 776.66) rotate(0.02) scale(0.1)" font-size="37">GPR153</text>
<text class="sm" transform="translate(413.4 780.32) rotate(0.02) scale(0.1)" font-size="37">Bim</text>
<text class="sm" transform="translate(413.4 787.65) rotate(0.02) scale(0.1)" font-size="37">PPP1R3G</text>
<text class="sm" transform="translate(413.4 794.97) rotate(0.02) scale(0.1)" font-size="37">FGF18</text>
<text class="sm" transform="translate(413.4 798.64) rotate(0.02) scale(0.1)" font-size="37">TBC1D8</text>
<text class="sm" transform="translate(413.4 802.3) rotate(0.02) scale(0.1)" font-size="37">EPHA4</text>
<text class="sm" transform="translate(413.4 805.96) rotate(0.02) scale(0.1)" font-size="37">CYP4F12</text>
<text class="sm" transform="translate(413.4 809.62) rotate(0.02) scale(0.1)" font-size="37">GDF11</text>
<text class="sm" transform="translate(413.4 813.29) rotate(0.02) scale(0.1)" font-size="37">PRKCZ</text>
<text class="sm" transform="translate(413.4 816.95) rotate(0.02) scale(0.1)" font-size="37">PTH2R</text>
<text class="sm" transform="translate(413.4 820.61) rotate(0.02) scale(0.1)" font-size="37">SLC6A9</text>
<text class="sm" transform="translate(413.4 824.27) rotate(0.02) scale(0.1)" font-size="37">BMP8B</text>
<text class="sm" transform="translate(413.4 827.93) rotate(0.02) scale(0.1)" font-size="37">ARHGEF15</text>
<text class="sm" transform="translate(413.4 831.6) rotate(0.02) scale(0.1)" font-size="37">FZD5</text>
<text class="sm" transform="translate(413.4 835.26) rotate(0.02) scale(0.1)" font-size="37">LRRC4B</text>
<text class="sm" transform="translate(413.4 838.92) rotate(0.02) scale(0.1)" font-size="37">NPTXR</text>
<text class="sm" transform="translate(413.4 842.58) rotate(0.02) scale(0.1)" font-size="37">FGF18</text>
<text class="sm" transform="translate(413.4 846.25) rotate(0.02) scale(0.1)" font-size="37">ITGB8</text>
<text class="sm" transform="translate(413.4 849.91) rotate(0.02) scale(0.1)" font-size="37">ATP2B2</text>
<text class="sm" transform="translate(413.4 853.57) rotate(0.02) scale(0.1)" font-size="37">PAK2</text>
<text class="sm" transform="translate(413.4 857.23) rotate(0.02) scale(0.1)" font-size="37">SEMA4F</text>
<text class="sm" transform="translate(413.4 860.9) rotate(0.02) scale(0.1)" font-size="37">Bim</text>
<text class="sm" transform="translate(413.4 864.56) rotate(0.02) scale(0.1)" font-size="37">CX3CL1</text>
<text class="sm" transform="translate(413.4 868.22) rotate(0.02) scale(0.1)" font-size="37">KLHL14</text>
<text class="sm" transform="translate(413.4 871.88) rotate(0.02) scale(0.1)" font-size="37">PNPT1</text>
<text class="sm" transform="translate(413.4 875.55) rotate(0.02) scale(0.1)" font-size="37">RAB3D</text>
<text class="sm" transform="translate(413.4 879.21) rotate(0.02) scale(0.1)" font-size="37">EFHD1</text>
<text class="sm" transform="translate(413.4 882.87) rotate(0.02) scale(0.1)" font-size="37">TNFRSF12A</text>
<text class="sm" transform="translate(413.4 886.53) rotate(0.02) scale(0.1)" font-size="37">SPP1</text>
<text class="sm" transform="translate(413.4 890.19) rotate(0.02) scale(0.1)" font-size="37">DLK2</text>
<text class="sm" transform="translate(413.4 893.86) rotate(0.02) scale(0.1)" font-size="37">IGF2</text>
<text class="sm" transform="translate(413.4 897.52) rotate(0.02) scale(0.1)" font-size="37">RALA</text>
<text class="sm" transform="translate(413.4 901.18) rotate(0.02) scale(0.1)" font-size="37">SHANK3</text>
<text class="sm" transform="translate(413.4 908.51) rotate(0.02) scale(0.1)" font-size="37">ABP1</text>
<text class="sm" transform="translate(413.4 912.17) rotate(0.02) scale(0.1)" font-size="37">VEGFA</text>
<text class="sm" transform="translate(413.4 915.83) rotate(0.02) scale(0.1)" font-size="37">SST</text>
<text class="sm" transform="translate(413.4 919.49) rotate(0.02) scale(0.1)" font-size="37">PCDHGC3</text>
<text class="sm" transform="translate(413.4 923.16) rotate(0.02) scale(0.1)" font-size="37">LTBP1</text>
<text class="sm" transform="translate(413.4 926.82) rotate(0.02) scale(0.1)" font-size="37">NRXN2</text>
<text class="sm" transform="translate(413.4 930.48) rotate(0.02) scale(0.1)" font-size="37">CACNA1A</text>
<text class="sm" transform="translate(413.4 934.14) rotate(0.02) scale(0.1)" font-size="37">SYT11</text>
<text class="sm" transform="translate(413.4 941.47) rotate(0.02) scale(0.1)" font-size="37">GNAO1</text>
<text class="sm" transform="translate(413.4 945.13) rotate(0.02) scale(0.1)" font-size="37">SV2A</text>
<text class="sm" transform="translate(413.4 948.79) rotate(0.02) scale(0.1)" font-size="37">ABCC8</text>
<text class="sm" transform="translate(413.4 952.45) rotate(0.02) scale(0.1)" font-size="37">SYT13</text>
<text class="sm" transform="translate(413.4 956.12) rotate(0.02) scale(0.1)" font-size="37">NRN1</text>
<text class="sm" transform="translate(413.4 959.78) rotate(0.02) scale(0.1)" font-size="37">CX3CL1</text>
<text class="sm" transform="translate(413.4 963.44) rotate(0.02) scale(0.1)" font-size="37">KCNIP2</text>
<text class="sm" transform="translate(413.4 967.1) rotate(0.02) scale(0.1)" font-size="37">RAP1GAP</text>
<text class="sm" transform="translate(413.4 970.77) rotate(0.02) scale(0.1)" font-size="37">CLSTN3</text>
<text class="sm" transform="translate(413.4 974.43) rotate(0.02) scale(0.1)" font-size="37">VEGFA</text>
<text class="sm" transform="translate(413.4 978.09) rotate(0.02) scale(0.1)" font-size="37">FSTL3</text>
<text class="sm" transform="translate(413.4 981.75) rotate(0.02) scale(0.1)" font-size="37">NOTCH3</text>
<text class="sm" transform="translate(413.4 985.42) rotate(0.02) scale(0.1)" font-size="37">DOK5</text>
<text class="sm" transform="translate(413.4 989.08) rotate(0.02) scale(0.1)" font-size="37">LTBP1</text>
<text class="sm" transform="translate(413.4 992.74) rotate(0.02) scale(0.1)" font-size="37">PLXNB1</text>
<text class="sm" transform="translate(413.4 996.4) rotate(0.02) scale(0.1)" font-size="37">AIF1L</text>
<text class="sm" transform="translate(413.4 1000.06) rotate(0.02) scale(0.1)" font-size="37">MAP6</text>
<text class="sm" transform="translate(413.4 1003.73) rotate(0.02) scale(0.1)" font-size="37">DHCR24</text>
<text class="sm" transform="translate(413.4 1007.39) rotate(0.02) scale(0.1)" font-size="37">RTN4R</text>
<text class="sm" transform="translate(413.4 1011.05) rotate(0.02) scale(0.1)" font-size="37">VWF</text>
<text class="sm" transform="translate(413.4 1014.71) rotate(0.02) scale(0.1)" font-size="37">CELSR2</text>
<text class="sm" transform="translate(413.4 1018.38) rotate(0.02) scale(0.1)" font-size="37">WBSCR22</text>
<text class="sm" transform="translate(413.4 1025.7) rotate(0.02) scale(0.1)" font-size="37">SLIT1</text>
<text class="sm" transform="translate(413.4 1029.36) rotate(0.02) scale(0.1)" font-size="37">ELMO3</text>
<text class="sm" transform="translate(413.4 1033.03) rotate(0.02) scale(0.1)" font-size="37">THBS4</text>
<text class="sm" transform="translate(413.4 1036.69) rotate(0.02) scale(0.1)" font-size="37">SCRT1</text>
<text class="sm" transform="translate(413.4 1040.35) rotate(0.02) scale(0.1)" font-size="37">KIF5A</text>
<text class="sm" transform="translate(413.4 1044.01) rotate(0.02) scale(0.1)" font-size="37">CHGA</text>
<text class="sm" transform="translate(413.4 1047.68) rotate(0.02) scale(0.1)" font-size="37">GPRIN1</text>
<text class="sm" transform="translate(413.4 1051.34) rotate(0.02) scale(0.1)" font-size="37">CELF5</text>
<text class="sm" transform="translate(413.4 1055) rotate(0.02) scale(0.1)" font-size="37">NEFM</text>
<text class="sm" transform="translate(413.4 1058.66) rotate(0.02) scale(0.1)" font-size="37">PTPRN</text>
<text class="sm" transform="translate(413.4 1062.32) rotate(0.02) scale(0.1)" font-size="37">SNAP25</text>
<text class="sm" transform="translate(413.4 1065.99) rotate(0.02) scale(0.1)" font-size="37">STMN2</text>
<text class="sm" transform="translate(413.4 1069.65) rotate(0.02) scale(0.1)" font-size="37">SCG3</text>
<text class="sm" transform="translate(413.4 1073.31) rotate(0.02) scale(0.1)" font-size="37">CADPS2</text>
<text class="sm" transform="translate(413.4 1076.97) rotate(0.02) scale(0.1)" font-size="37">INA</text>
<text class="sm" transform="translate(413.4 1080.64) rotate(0.02) scale(0.1)" font-size="37">MAL2</text>
<text class="sm" transform="translate(413.4 1084.3) rotate(0.02) scale(0.1)" font-size="37">ESYT2</text>
<text class="sm" transform="translate(413.4 1087.96) rotate(0.02) scale(0.1)" font-size="37">MRVI1</text>
<text class="sm" transform="translate(413.4 1091.62) rotate(0.02) scale(0.1)" font-size="37">CD248</text>
<text class="sm" transform="translate(413.4 1095.29) rotate(0.02) scale(0.1)" font-size="37">CTHRC1</text>
<text class="sm" transform="translate(413.4 1098.95) rotate(0.02) scale(0.1)" font-size="37">ELOVL6</text>
<text class="sm" transform="translate(413.4 1102.61) rotate(0.02) scale(0.1)" font-size="37">CCDC3</text>
<text class="sm" transform="translate(413.4 1106.27) rotate(0.02) scale(0.1)" font-size="37">SYT17</text>
<text class="sm" transform="translate(413.4 1109.93) rotate(0.02) scale(0.1)" font-size="37">CPT1B</text>
<text class="sm" transform="translate(413.4 1113.6) rotate(0.02) scale(0.1)" font-size="37">SH3PXD2B</text>
<text class="sm" transform="translate(413.4 1117.26) rotate(0.02) scale(0.1)" font-size="37">KIF1A</text>
<text class="sm" transform="translate(413.4 1120.92) rotate(0.02) scale(0.1)" font-size="37">KIF1B</text>
<text class="sm" transform="translate(413.4 1124.58) rotate(0.02) scale(0.1)" font-size="37">HPN</text>
<text class="sm" transform="translate(413.4 1128.25) rotate(0.02) scale(0.1)" font-size="37">ATP6V0E2</text>
<text class="sm" transform="translate(413.4 1131.91) rotate(0.02) scale(0.1)" font-size="37">ELOVL1</text>
<text class="sm" transform="translate(413.4 1135.57) rotate(0.02) scale(0.1)" font-size="37">SLC12A7</text>
<text class="sm" transform="translate(413.4 1139.23) rotate(0.02) scale(0.1)" font-size="37">ABP1</text>
<text class="sm" transform="translate(413.4 1142.9) rotate(0.02) scale(0.1)" font-size="37">LTBP1</text>
<text class="sm" transform="translate(413.4 1146.56) rotate(0.02) scale(0.1)" font-size="37">CX3CL1</text>
<text class="sm" transform="translate(413.4 1150.22) rotate(0.02) scale(0.1)" font-size="37">DHCR24</text>
<text class="sm" transform="translate(413.4 1153.88) rotate(0.02) scale(0.1)" font-size="37">VWF</text>
<text class="sm" transform="translate(413.4 1157.55) rotate(0.02) scale(0.1)" font-size="37">WBSCR22</text>
<text class="sm" transform="translate(413.4 1161.21) rotate(0.02) scale(0.1)" font-size="37">CDK5</text>
<text class="sm" transform="translate(413.4 1164.87) rotate(0.02) scale(0.1)" font-size="37">C9orf125</text>
<text class="sm" transform="translate(413.4 1168.53) rotate(0.02) scale(0.1)" font-size="37">CADPS</text>
<text class="sm" transform="translate(413.4 1172.19) rotate(0.02) scale(0.1)" font-size="37">CADPS</text>
<text class="sm" transform="translate(413.4 1175.86) rotate(0.02) scale(0.1)" font-size="37">PRND</text>
<text class="sm" transform="translate(413.4 1179.52) rotate(0.02) scale(0.1)" font-size="37">NPTX1</text>
<text class="sm" transform="translate(413.4 1183.18) rotate(0.02) scale(0.1)" font-size="37">GAP43</text>
<text class="sm" transform="translate(413.4 1186.84) rotate(0.02) scale(0.1)" font-size="37">RGS4</text>
<text class="sm" transform="translate(413.4 1190.51) rotate(0.02) scale(0.1)" font-size="37">TUBB3</text>
<text class="sm" transform="translate(413.4 1194.17) rotate(0.02) scale(0.1)" font-size="37">NEFL</text>
<text class="sm" transform="translate(413.4 1197.83) rotate(0.02) scale(0.1)" font-size="37">CRMP1</text>
<text class="sm" transform="translate(413.4 1201.49) rotate(0.02) scale(0.1)" font-size="37">DPYSL3</text>
<text transform="translate(108.32 1207.5) rotate(-90)" font-size="6.15" text-anchor="end">blood</text>
<text transform="translate(116.17 1207.5) rotate(-90)" font-size="6.15" text-anchor="end">bone_marrow</text>
<text transform="translate(124.02 1207.5) rotate(-90)" font-size="6.15" text-anchor="end">breast</text>
<text transform="translate(131.86 1207.5) rotate(-90)" font-size="6.15" text-anchor="end">bronchus</text>
<text transform="translate(139.71 1207.5) rotate(-90)" font-size="6.15" text-anchor="end">cecum</text>
<text transform="translate(147.55 1207.5) rotate(-90)" font-size="6.15" text-anchor="end">cerebellum</text>
<text transform="translate(155.4 1207.5) rotate(-90)" font-size="6.15" text-anchor="end">cervix</text>
<text transform="translate(163.25 1207.5) rotate(-90)" font-size="6.15" text-anchor="end">colon</text>
<text transform="translate(171.09 1207.5) rotate(-90)" font-size="6.15" text-anchor="end">endometrium</text>
<text transform="translate(178.94 1207.5) rotate(-90)" font-size="6.15" text-anchor="end">fallopian_tube</text>
<text transform="translate(186.78 1207.5) rotate(-90)" font-size="6.15" text-anchor="end">head_and_neck_epithelial</text>
<text transform="translate(194.63 1207.5) rotate(-90)" font-size="6.15" text-anchor="end">hypothalamus</text>
<text transform="translate(202.48 1207.5) rotate(-90)" font-size="6.15" text-anchor="end">kidney</text>
<text transform="translate(210.32 1207.5) rotate(-90)" font-size="6.15" text-anchor="end">liver</text>
<text transform="translate(218.17 1207.5) rotate(-90)" font-size="6.15" text-anchor="end">lung</text>
<text transform="translate(226.02 1207.5) rotate(-90)" font-size="6.15" text-anchor="end">medulla</text>
<text transform="translate(233.86 1207.5) rotate(-90)" font-size="6.15" text-anchor="end">midbrain</text>
<text transform="translate(241.71 1207.5) rotate(-90)" font-size="6.15" text-anchor="end">myometrium</text>
<text transform="translate(249.55 1207.5) rotate(-90)" font-size="6.15" text-anchor="end">ovary</text>
<text transform="translate(257.4 1207.5) rotate(-90)" font-size="6.15" text-anchor="end">parotid_gland</text>
<text transform="translate(265.25 1207.5) rotate(-90)" font-size="6.15" text-anchor="end">pbmc</text>
<text transform="translate(273.09 1207.5) rotate(-90)" font-size="6.15" text-anchor="end">pituitary_gland</text>
<text transform="translate(280.94 1207.5) rotate(-90)" font-size="6.15" text-anchor="end">platelets</text>
<text transform="translate(288.78 1207.5) rotate(-90)" font-size="6.15" text-anchor="end">rectum</text>
<text transform="translate(296.63 1207.5) rotate(-90)" font-size="6.15" text-anchor="end">saliva</text>
<text transform="translate(304.48 1207.5) rotate(-90)" font-size="6.15" text-anchor="end">skeletal_muscle</text>
<text transform="translate(312.32 1207.5) rotate(-90)" font-size="6.15" text-anchor="end">skin</text>
<text transform="translate(320.17 1207.5) rotate(-90)" font-size="6.15" text-anchor="end">spinal_cord</text>
<text transform="translate(328.02 1207.5) rotate(-90)" font-size="6.15" text-anchor="end">spleen</text>
<text transform="translate(335.86 1207.5) rotate(-90)" font-size="6.15" text-anchor="end">stomach</text>
<text transform="translate(343.71 1207.5) rotate(-90)" font-size="6.15" text-anchor="end">thalamus</text>
<text transform="translate(351.55 1207.5) rotate(-90)" font-size="6.15" text-anchor="end">thyroid</text>
<text transform="translate(359.4 1207.5) rotate(-90)" font-size="6.15" text-anchor="end">tongue_squamous</text>
<text transform="translate(367.25 1207.5) rotate(-90)" font-size="6.15" text-anchor="end">tonsil</text>
<text transform="translate(375.09 1207.5) rotate(-90)" font-size="6.15" text-anchor="end">trachea</text>
<text transform="translate(382.94 1207.5) rotate(-90)" font-size="6.15" text-anchor="end">urethra</text>
<text transform="translate(390.78 1207.5) rotate(-90)" font-size="6.15" text-anchor="end">vagina</text>
<text transform="translate(398.63 1207.5) rotate(-90)" font-size="6.15" text-anchor="end">vulva</text>
<text transform="translate(406.48 1207.5) rotate(-90)" font-size="6.15" text-anchor="end">Average</text>
</svg></body></html>
